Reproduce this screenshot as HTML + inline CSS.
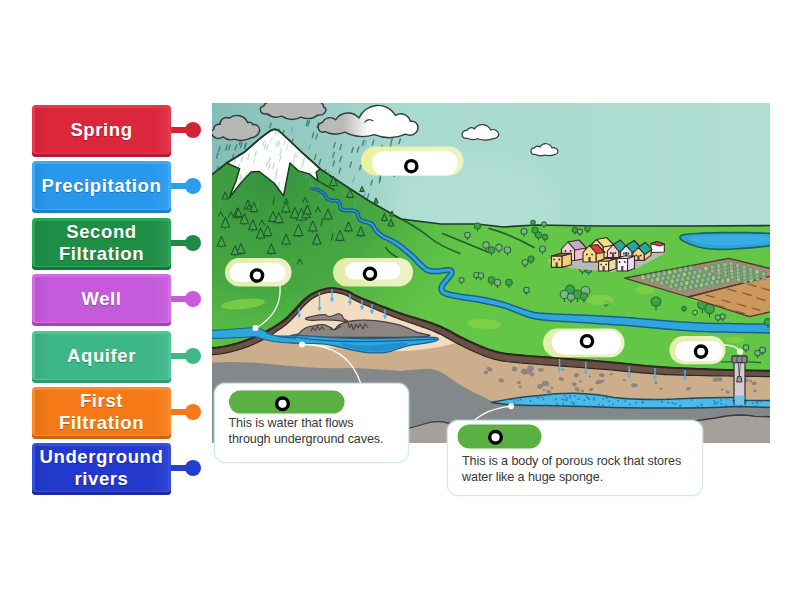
<!DOCTYPE html>
<html>
<head>
<meta charset="utf-8">
<title>Groundwater labelled diagram</title>
<style>
html,body{margin:0;padding:0;background:#fff;}
body{width:800px;height:600px;position:relative;overflow:hidden;font-family:"Liberation Sans",sans-serif;}
.btn{position:absolute;left:32px;width:139px;height:52px;border-radius:4px;color:#fff;font-weight:bold;font-size:18.5px;letter-spacing:.6px;line-height:22px;padding-bottom:3px;text-align:center;display:flex;align-items:center;justify-content:center;box-sizing:border-box;text-shadow:0 1px 1px rgba(0,0,0,.25);}
.btn span{display:block;}
.btn:before{content:"";position:absolute;left:3px;right:3px;top:3px;bottom:4px;border-radius:2px;background:var(--m);background-image:linear-gradient(90deg,rgba(0,0,0,.06),rgba(0,0,0,0) 12%,rgba(0,0,0,0) 88%,rgba(255,255,255,.06));}
.btn span{position:relative;}
.conn{position:absolute;left:171px;width:16px;height:6px;}
.dot{position:absolute;left:184.5px;width:16px;height:16px;border-radius:50%;}
#art{position:absolute;left:212px;top:103px;width:558px;height:340px;}
#over{position:absolute;left:0;top:0;width:800px;height:600px;}
.tip{position:absolute;background:#fff;border:1px solid #cfeae6;border-radius:11px;box-sizing:border-box;box-shadow:0 0 2px #d8efec;}
.tip p{position:absolute;margin:0;font-size:12.6px;letter-spacing:-.1px;line-height:15.5px;color:#383838;white-space:nowrap;}
</style>
</head>
<body>

<!-- left buttons -->
<div class="btn" style="top:105px;--m:#db263c;background:#e8364c;box-shadow:inset 0 -3px 0 #b51a2d;"><span>Spring</span></div>
<div class="btn" style="top:161px;--m:#2998ec;background:#3fabf6;box-shadow:inset 0 -3px 0 #1f7fcc;"><span>Precipitation</span></div>
<div class="btn" style="top:218px;--m:#1f8e47;background:#27a856;box-shadow:inset 0 -3px 0 #177338;"><span>Second<br>Filtration</span></div>
<div class="btn" style="top:274px;--m:#c55ada;background:#d26de5;box-shadow:inset 0 -3px 0 #a443b8;"><span>Well</span></div>
<div class="btn" style="top:331px;--m:#3db688;background:#4fc699;box-shadow:inset 0 -3px 0 #2f9a70;"><span>Aquifer</span></div>
<div class="btn" style="top:387px;--m:#f57a17;background:#fb8b2b;box-shadow:inset 0 -3px 0 #d36210;"><span>First<br>Filtration</span></div>
<div class="btn" style="top:443px;--m:#2339cd;background:#3350e2;box-shadow:inset 0 -3px 0 #1a2ca3;"><span>Underground<br>rivers</span></div>

<div class="conn" style="top:127.3px;background:#d42338;"></div><div class="dot" style="top:122.3px;background:#d42338;"></div>
<div class="conn" style="top:183.3px;background:#2b9df0;"></div><div class="dot" style="top:178.3px;background:#2b9df0;"></div>
<div class="conn" style="top:240.3px;background:#1f8a44;"></div><div class="dot" style="top:235.3px;background:#1f8a44;"></div>
<div class="conn" style="top:296.3px;background:#c75bdc;"></div><div class="dot" style="top:291.3px;background:#c75bdc;"></div>
<div class="conn" style="top:353.3px;background:#3fb888;"></div><div class="dot" style="top:348.3px;background:#3fb888;"></div>
<div class="conn" style="top:409.3px;background:#f5791b;"></div><div class="dot" style="top:404.3px;background:#f5791b;"></div>
<div class="conn" style="top:465.3px;background:#233fd0;"></div><div class="dot" style="top:460.3px;background:#233fd0;"></div>

<!-- illustration -->
<svg id="art" viewBox="212 103 558 340">
<defs>
<linearGradient id="sky" x1="0" y1="0" x2="1" y2="0"><stop offset="0" stop-color="#84bdb5"/><stop offset=".35" stop-color="#a9dacf"/><stop offset="1" stop-color="#b0ded3"/></linearGradient>
<linearGradient id="mtn" x1="0" y1="0" x2="0" y2="1"><stop offset="0" stop-color="#3a9a3d"/><stop offset="1" stop-color="#5bbd45"/></linearGradient>
<filter id="b8" x="-30%" y="-30%" width="160%" height="160%"><feGaussianBlur stdDeviation="10"/></filter>
<linearGradient id="cl3" x1="0" y1="0" x2="1" y2="0"><stop offset="0" stop-color="#b9b9b8"/><stop offset=".25" stop-color="#b9b9b8"/><stop offset=".52" stop-color="#fff"/><stop offset="1" stop-color="#fff"/></linearGradient>
<radialGradient id="dark" gradientUnits="userSpaceOnUse" cx="270" cy="175" r="215"><stop offset="0" stop-color="#34903d" stop-opacity=".95"/><stop offset=".55" stop-color="#3c9c40" stop-opacity=".7"/><stop offset="1" stop-color="#4fb542" stop-opacity="0"/></radialGradient>
</defs>
<rect x="212" y="103" width="558" height="340" fill="url(#sky)"/>
<ellipse cx="470" cy="205" rx="80" ry="45" fill="#c4e8df" opacity=".3" filter="url(#b8)"/>
<path d="M283.9,130.7 l-1.4,4.8" stroke="#3d817e" stroke-width="1.35" stroke-linecap="round" opacity="0.9"/><path d="M229.6,178.4 l-1.4,4.8" stroke="#3d817e" stroke-width="1.35" stroke-linecap="round" opacity="0.9"/><path d="M226.5,174.9 l-1.4,4.8" stroke="#3d817e" stroke-width="1.35" stroke-linecap="round" opacity="0.9"/><path d="M307.7,120.7 l-1.4,4.8" stroke="#3d817e" stroke-width="1.35" stroke-linecap="round" opacity="0.9"/><path d="M240.7,139.7 l-1.4,4.8" stroke="#3d817e" stroke-width="1.35" stroke-linecap="round" opacity="0.9"/><path d="M276.6,129.9 l-1.4,4.8" stroke="#3d817e" stroke-width="1.35" stroke-linecap="round" opacity="0.9"/><path d="M253.0,184.1 l-1.4,4.8" stroke="#3d817e" stroke-width="1.35" stroke-linecap="round" opacity="0.9"/><path d="M294.4,179.9 l-1.4,4.8" stroke="#3d817e" stroke-width="1.35" stroke-linecap="round" opacity="0.9"/><path d="M361.0,165.0 l-1.4,4.8" stroke="#3d817e" stroke-width="1.35" stroke-linecap="round" opacity="0.9"/><path d="M340.5,168.2 l-1.4,4.8" stroke="#3d817e" stroke-width="1.35" stroke-linecap="round" opacity="0.9"/><path d="M266.7,183.2 l-1.4,4.8" stroke="#3d817e" stroke-width="1.35" stroke-linecap="round" opacity="0.9"/><path d="M239.5,163.8 l-1.4,4.8" stroke="#3d817e" stroke-width="1.35" stroke-linecap="round" opacity="0.9"/><path d="M246.8,172.6 l-1.4,4.8" stroke="#3d817e" stroke-width="1.35" stroke-linecap="round" opacity="0.9"/><path d="M358.3,206.8 l-1.4,4.8" stroke="#3d817e" stroke-width="1.35" stroke-linecap="round" opacity="0.9"/><path d="M403.1,150.9 l-1.4,4.8" stroke="#3d817e" stroke-width="1.35" stroke-linecap="round" opacity="0.9"/><path d="M342.4,183.9 l-1.4,4.8" stroke="#3d817e" stroke-width="1.35" stroke-linecap="round" opacity="0.9"/><path d="M316.4,194.4 l-1.4,4.8" stroke="#3d817e" stroke-width="1.35" stroke-linecap="round" opacity="0.9"/><path d="M365.5,192.2 l-1.4,4.8" stroke="#62b7c4" stroke-width="1.35" stroke-linecap="round" opacity="0.9"/><path d="M391.5,147.3 l-1.4,4.8" stroke="#3d817e" stroke-width="1.35" stroke-linecap="round" opacity="0.9"/><path d="M313.7,132.8 l-1.4,4.8" stroke="#3d817e" stroke-width="1.35" stroke-linecap="round" opacity="0.9"/><path d="M241.9,142.7 l-1.4,4.8" stroke="#3d817e" stroke-width="1.35" stroke-linecap="round" opacity="0.9"/><path d="M311.0,180.1 l-1.4,4.8" stroke="#62b7c4" stroke-width="1.35" stroke-linecap="round" opacity="0.9"/><path d="M274.1,163.5 l-1.4,4.8" stroke="#3d817e" stroke-width="1.35" stroke-linecap="round" opacity="0.9"/><path d="M264.1,140.9 l-1.4,4.8" stroke="#3d817e" stroke-width="1.35" stroke-linecap="round" opacity="0.9"/><path d="M341.3,144.6 l-1.4,4.8" stroke="#3d817e" stroke-width="1.35" stroke-linecap="round" opacity="0.9"/><path d="M304.5,157.8 l-1.4,4.8" stroke="#3d817e" stroke-width="1.35" stroke-linecap="round" opacity="0.9"/><path d="M325.3,188.6 l-1.4,4.8" stroke="#3d817e" stroke-width="1.35" stroke-linecap="round" opacity="0.9"/><path d="M386.3,160.7 l-1.4,4.8" stroke="#3d817e" stroke-width="1.35" stroke-linecap="round" opacity="0.9"/><path d="M236.4,190.7 l-1.4,4.8" stroke="#3d817e" stroke-width="1.35" stroke-linecap="round" opacity="0.9"/><path d="M249.1,154.2 l-1.4,4.8" stroke="#3d817e" stroke-width="1.35" stroke-linecap="round" opacity="0.9"/><path d="M235.9,157.1 l-1.4,4.8" stroke="#3d817e" stroke-width="1.35" stroke-linecap="round" opacity="0.9"/><path d="M246.1,143.3 l-1.4,4.8" stroke="#3d817e" stroke-width="1.35" stroke-linecap="round" opacity="0.9"/><path d="M292.7,127.2 l-1.4,4.8" stroke="#62b7c4" stroke-width="1.35" stroke-linecap="round" opacity="0.9"/><path d="M318.5,122.6 l-1.4,4.8" stroke="#3d817e" stroke-width="1.35" stroke-linecap="round" opacity="0.9"/><path d="M288.0,144.8 l-1.4,4.8" stroke="#62b7c4" stroke-width="1.35" stroke-linecap="round" opacity="0.9"/><path d="M245.7,179.4 l-1.4,4.8" stroke="#3d817e" stroke-width="1.35" stroke-linecap="round" opacity="0.9"/><path d="M270.4,157.5 l-1.4,4.8" stroke="#3d817e" stroke-width="1.35" stroke-linecap="round" opacity="0.9"/><path d="M380.7,178.0 l-1.4,4.8" stroke="#3d817e" stroke-width="1.35" stroke-linecap="round" opacity="0.9"/><path d="M285.2,139.7 l-1.4,4.8" stroke="#62b7c4" stroke-width="1.35" stroke-linecap="round" opacity="0.9"/><path d="M373.8,140.1 l-1.4,4.8" stroke="#3d817e" stroke-width="1.35" stroke-linecap="round" opacity="0.9"/><path d="M220.0,146.6 l-1.4,4.8" stroke="#3d817e" stroke-width="1.35" stroke-linecap="round" opacity="0.9"/><path d="M292.8,139.3 l-1.4,4.8" stroke="#3d817e" stroke-width="1.35" stroke-linecap="round" opacity="0.9"/><path d="M395.5,171.5 l-1.4,4.8" stroke="#3d817e" stroke-width="1.35" stroke-linecap="round" opacity="0.9"/><path d="M317.3,134.1 l-1.4,4.8" stroke="#3d817e" stroke-width="1.35" stroke-linecap="round" opacity="0.9"/><path d="M289.7,180.0 l-1.4,4.8" stroke="#3d817e" stroke-width="1.35" stroke-linecap="round" opacity="0.9"/><path d="M354.3,177.3 l-1.4,4.8" stroke="#62b7c4" stroke-width="1.35" stroke-linecap="round" opacity="0.9"/><path d="M392.4,138.2 l-1.4,4.8" stroke="#3d817e" stroke-width="1.35" stroke-linecap="round" opacity="0.9"/><path d="M277.3,141.8 l-1.4,4.8" stroke="#3d817e" stroke-width="1.35" stroke-linecap="round" opacity="0.9"/><path d="M270.0,164.0 l-1.4,4.8" stroke="#3d817e" stroke-width="1.35" stroke-linecap="round" opacity="0.9"/><path d="M313.0,184.3 l-1.4,4.8" stroke="#62b7c4" stroke-width="1.35" stroke-linecap="round" opacity="0.9"/><path d="M322.4,177.9 l-1.4,4.8" stroke="#3d817e" stroke-width="1.35" stroke-linecap="round" opacity="0.9"/><path d="M218.0,166.6 l-1.4,4.8" stroke="#3d817e" stroke-width="1.35" stroke-linecap="round" opacity="0.9"/><path d="M251.2,170.7 l-1.4,4.8" stroke="#3d817e" stroke-width="1.35" stroke-linecap="round" opacity="0.9"/><path d="M334.2,152.4 l-1.4,4.8" stroke="#3d817e" stroke-width="1.35" stroke-linecap="round" opacity="0.9"/><path d="M334.0,209.2 l-1.4,4.8" stroke="#3d817e" stroke-width="1.35" stroke-linecap="round" opacity="0.9"/><path d="M335.0,142.8 l-1.4,4.8" stroke="#3d817e" stroke-width="1.35" stroke-linecap="round" opacity="0.9"/><path d="M380.8,175.0 l-1.4,4.8" stroke="#3d817e" stroke-width="1.35" stroke-linecap="round" opacity="0.9"/><path d="M309.7,188.0 l-1.4,4.8" stroke="#3d817e" stroke-width="1.35" stroke-linecap="round" opacity="0.9"/><path d="M324.6,197.9 l-1.4,4.8" stroke="#3d817e" stroke-width="1.35" stroke-linecap="round" opacity="0.9"/><path d="M329.2,171.3 l-1.4,4.8" stroke="#62b7c4" stroke-width="1.35" stroke-linecap="round" opacity="0.9"/><path d="M334.9,229.0 l-1.4,4.8" stroke="#62b7c4" stroke-width="1.35" stroke-linecap="round" opacity="0.9"/><path d="M309.5,121.0 l-1.4,4.8" stroke="#3d817e" stroke-width="1.35" stroke-linecap="round" opacity="0.9"/><path d="M229.8,195.0 l-1.4,4.8" stroke="#3d817e" stroke-width="1.35" stroke-linecap="round" opacity="0.9"/><path d="M368.7,193.9 l-1.4,4.8" stroke="#3d817e" stroke-width="1.35" stroke-linecap="round" opacity="0.9"/><path d="M300.0,172.4 l-1.4,4.8" stroke="#62b7c4" stroke-width="1.35" stroke-linecap="round" opacity="0.9"/><path d="M307.2,175.9 l-1.4,4.8" stroke="#3d817e" stroke-width="1.35" stroke-linecap="round" opacity="0.9"/><path d="M256.3,151.5 l-1.4,4.8" stroke="#3d817e" stroke-width="1.35" stroke-linecap="round" opacity="0.9"/><path d="M218.2,180.7 l-1.4,4.8" stroke="#3d817e" stroke-width="1.35" stroke-linecap="round" opacity="0.9"/><path d="M217.9,153.1 l-1.4,4.8" stroke="#3d817e" stroke-width="1.35" stroke-linecap="round" opacity="0.9"/><path d="M324.6,120.0 l-1.4,4.8" stroke="#62b7c4" stroke-width="1.35" stroke-linecap="round" opacity="0.9"/><path d="M236.6,144.9 l-1.4,4.8" stroke="#3d817e" stroke-width="1.35" stroke-linecap="round" opacity="0.9"/><path d="M382.3,145.5 l-1.4,4.8" stroke="#3d817e" stroke-width="1.35" stroke-linecap="round" opacity="0.9"/><path d="M390.9,144.1 l-1.4,4.8" stroke="#3d817e" stroke-width="1.35" stroke-linecap="round" opacity="0.9"/><path d="M226.4,197.3 l-1.4,4.8" stroke="#3d817e" stroke-width="1.35" stroke-linecap="round" opacity="0.9"/><path d="M351.0,211.4 l-1.4,4.8" stroke="#3d817e" stroke-width="1.35" stroke-linecap="round" opacity="0.9"/><path d="M400.4,168.3 l-1.4,4.8" stroke="#3d817e" stroke-width="1.35" stroke-linecap="round" opacity="0.9"/><path d="M333.5,226.9 l-1.4,4.8" stroke="#3d817e" stroke-width="1.35" stroke-linecap="round" opacity="0.9"/><path d="M241.9,177.3 l-1.4,4.8" stroke="#3d817e" stroke-width="1.35" stroke-linecap="round" opacity="0.9"/><path d="M281.4,149.8 l-1.4,4.8" stroke="#3d817e" stroke-width="1.35" stroke-linecap="round" opacity="0.9"/><path d="M276.6,174.0 l-1.4,4.8" stroke="#3d817e" stroke-width="1.35" stroke-linecap="round" opacity="0.9"/><path d="M372.3,180.3 l-1.4,4.8" stroke="#3d817e" stroke-width="1.35" stroke-linecap="round" opacity="0.9"/><path d="M307.4,173.4 l-1.4,4.8" stroke="#62b7c4" stroke-width="1.35" stroke-linecap="round" opacity="0.9"/><path d="M298.9,174.8 l-1.4,4.8" stroke="#3d817e" stroke-width="1.35" stroke-linecap="round" opacity="0.9"/><path d="M351.4,162.2 l-1.4,4.8" stroke="#3d817e" stroke-width="1.35" stroke-linecap="round" opacity="0.9"/><path d="M229.3,203.9 l-1.4,4.8" stroke="#3d817e" stroke-width="1.35" stroke-linecap="round" opacity="0.9"/><path d="M358.8,147.0 l-1.4,4.8" stroke="#3d817e" stroke-width="1.35" stroke-linecap="round" opacity="0.9"/><path d="M277.3,169.0 l-1.4,4.8" stroke="#3d817e" stroke-width="1.35" stroke-linecap="round" opacity="0.9"/><path d="M310.3,144.6 l-1.4,4.8" stroke="#62b7c4" stroke-width="1.35" stroke-linecap="round" opacity="0.9"/><path d="M280.9,156.2 l-1.4,4.8" stroke="#3d817e" stroke-width="1.35" stroke-linecap="round" opacity="0.9"/><path d="M296.4,170.9 l-1.4,4.8" stroke="#3d817e" stroke-width="1.35" stroke-linecap="round" opacity="0.9"/><path d="M257.4,174.6 l-1.4,4.8" stroke="#3d817e" stroke-width="1.35" stroke-linecap="round" opacity="0.9"/><path d="M271.1,123.1 l-1.4,4.8" stroke="#3d817e" stroke-width="1.35" stroke-linecap="round" opacity="0.9"/><path d="M279.7,140.9 l-1.4,4.8" stroke="#3d817e" stroke-width="1.35" stroke-linecap="round" opacity="0.9"/><path d="M356.0,200.8 l-1.4,4.8" stroke="#62b7c4" stroke-width="1.35" stroke-linecap="round" opacity="0.9"/><path d="M298.1,152.4 l-1.4,4.8" stroke="#62b7c4" stroke-width="1.35" stroke-linecap="round" opacity="0.9"/><path d="M246.3,201.8 l-1.4,4.8" stroke="#3d817e" stroke-width="1.35" stroke-linecap="round" opacity="0.9"/><path d="M244.1,176.9 l-1.4,4.8" stroke="#3d817e" stroke-width="1.35" stroke-linecap="round" opacity="0.9"/><path d="M363.8,140.5 l-1.4,4.8" stroke="#3d817e" stroke-width="1.35" stroke-linecap="round" opacity="0.9"/><path d="M242.7,156.7 l-1.4,4.8" stroke="#3d817e" stroke-width="1.35" stroke-linecap="round" opacity="0.9"/><path d="M349.6,189.7 l-1.4,4.8" stroke="#3d817e" stroke-width="1.35" stroke-linecap="round" opacity="0.9"/><path d="M322.6,178.4 l-1.4,4.8" stroke="#3d817e" stroke-width="1.35" stroke-linecap="round" opacity="0.9"/><path d="M228.3,203.4 l-1.4,4.8" stroke="#3d817e" stroke-width="1.35" stroke-linecap="round" opacity="0.9"/><path d="M230.1,144.9 l-1.4,4.8" stroke="#3d817e" stroke-width="1.35" stroke-linecap="round" opacity="0.9"/><path d="M258.3,203.7 l-1.4,4.8" stroke="#62b7c4" stroke-width="1.35" stroke-linecap="round" opacity="0.9"/><path d="M320.7,159.4 l-1.4,4.8" stroke="#3d817e" stroke-width="1.35" stroke-linecap="round" opacity="0.9"/><path d="M361.7,207.1 l-1.4,4.8" stroke="#3d817e" stroke-width="1.35" stroke-linecap="round" opacity="0.9"/><path d="M245.8,143.5 l-1.4,4.8" stroke="#3d817e" stroke-width="1.35" stroke-linecap="round" opacity="0.9"/><path d="M279.8,182.4 l-1.4,4.8" stroke="#3d817e" stroke-width="1.35" stroke-linecap="round" opacity="0.9"/><path d="M227.1,145.3 l-1.4,4.8" stroke="#3d817e" stroke-width="1.35" stroke-linecap="round" opacity="0.9"/><path d="M363.5,195.8 l-1.4,4.8" stroke="#3d817e" stroke-width="1.35" stroke-linecap="round" opacity="0.9"/><path d="M325.6,169.6 l-1.4,4.8" stroke="#3d817e" stroke-width="1.35" stroke-linecap="round" opacity="0.9"/><path d="M272.0,138.0 l-1.4,4.8" stroke="#62b7c4" stroke-width="1.35" stroke-linecap="round" opacity="0.9"/><path d="M259.5,184.1 l-1.4,4.8" stroke="#3d817e" stroke-width="1.35" stroke-linecap="round" opacity="0.9"/><path d="M365.9,140.7 l-1.4,4.8" stroke="#62b7c4" stroke-width="1.35" stroke-linecap="round" opacity="0.9"/><path d="M214.8,173.0 l-1.4,4.8" stroke="#3d817e" stroke-width="1.35" stroke-linecap="round" opacity="0.9"/><path d="M279.2,129.4 l-1.4,4.8" stroke="#3d817e" stroke-width="1.35" stroke-linecap="round" opacity="0.9"/><path d="M294.4,160.7 l-1.4,4.8" stroke="#62b7c4" stroke-width="1.35" stroke-linecap="round" opacity="0.9"/><path d="M341.3,156.7 l-1.4,4.8" stroke="#3d817e" stroke-width="1.35" stroke-linecap="round" opacity="0.9"/><path d="M267.9,145.0 l-1.4,4.8" stroke="#3d817e" stroke-width="1.35" stroke-linecap="round" opacity="0.9"/><path d="M255.0,158.3 l-1.4,4.8" stroke="#62b7c4" stroke-width="1.35" stroke-linecap="round" opacity="0.9"/><path d="M372.2,167.9 l-1.4,4.8" stroke="#3d817e" stroke-width="1.35" stroke-linecap="round" opacity="0.9"/><path d="M353.2,147.5 l-1.4,4.8" stroke="#3d817e" stroke-width="1.35" stroke-linecap="round" opacity="0.9"/><path d="M316.0,154.6 l-1.4,4.8" stroke="#3d817e" stroke-width="1.35" stroke-linecap="round" opacity="0.9"/><path d="M270.2,193.3 l-1.4,4.8" stroke="#3d817e" stroke-width="1.35" stroke-linecap="round" opacity="0.9"/><path d="M334.4,160.9 l-1.4,4.8" stroke="#3d817e" stroke-width="1.35" stroke-linecap="round" opacity="0.9"/><path d="M233.6,154.4 l-1.4,4.8" stroke="#3d817e" stroke-width="1.35" stroke-linecap="round" opacity="0.9"/><path d="M265.7,144.0 l-1.4,4.8" stroke="#3d817e" stroke-width="1.35" stroke-linecap="round" opacity="0.9"/><path d="M303.2,163.3 l-1.4,4.8" stroke="#3d817e" stroke-width="1.35" stroke-linecap="round" opacity="0.9"/><path d="M295.4,153.9 l-1.4,4.8" stroke="#3d817e" stroke-width="1.35" stroke-linecap="round" opacity="0.9"/><path d="M241.2,174.4 l-1.4,4.8" stroke="#3d817e" stroke-width="1.35" stroke-linecap="round" opacity="0.9"/><path d="M400.4,138.8 l-1.4,4.8" stroke="#3d817e" stroke-width="1.35" stroke-linecap="round" opacity="0.9"/><path d="M267.7,161.6 l-1.4,4.8" stroke="#3d817e" stroke-width="1.35" stroke-linecap="round" opacity="0.9"/><path d="M221.0,200.0 l-1.4,4.8" stroke="#62b7c4" stroke-width="1.35" stroke-linecap="round" opacity="0.9"/><path d="M316.2,184.8 l-1.4,4.8" stroke="#3d817e" stroke-width="1.35" stroke-linecap="round" opacity="0.9"/>
<path d="M212,174.6 L226.6,163 L244.5,152 L260.7,137.9 L270,131 Q274.6,127.6 279.2,131 L288.4,139.5 L303,153.3 L321,169.5 L345,185.5 L370,201.5 L401,219 L441,224 L477,224 L503,227 L536,225 L600,226 L690,226 L770,225.5 L770,443 L212,443 Z" fill="#63c647"/><path d="M212,174.6 L226.6,163 L244.5,152 L260.7,137.9 L270,131 Q274.6,127.6 279.2,131 L288.4,139.5 L303,153.3 L321,169.5 L345,185.5 L370,201.5 L401,219 L441,224 L477,224 L503,227 L536,225 L600,226 L690,226 L770,225.5 L770,443 L212,443 Z" fill="url(#dark)"/><path d="M226.6,163 L244.5,152 L260.7,137.9 L270,131 Q274.6,127.6 279.2,131 L288.4,139.5 L303,153.3 L320.2,168.8 L316.2,172.2 L317.8,181 L309.5,174 L298,170.6 L290,163 L283.5,195.8 L274,183 L259,171.4 L251,172 L240,184 L229,198.2 L236,181 L239.6,168.8 Z" fill="#fff" stroke="#1d3a22" stroke-width="1.5" stroke-linejoin="round"/><path d="M212,174.6 L226.6,163 L244.5,152 L260.7,137.9 L270,131 Q274.6,127.6 279.2,131 L288.4,139.5 L303,153.3 L321,169.5 L345,185.5 L370,201.5 L401,219 L441,224 L477,224 L503,227 L536,225 L600,226 L690,226 L770,225.5" fill="none" stroke="#1d3a22" stroke-width="1.7" stroke-linejoin="round"/><path d="M401,219 Q418,228 429,237 T460,253.5" fill="none" stroke="#24592b" stroke-width="1.5" stroke-linecap="round"/><path d="M442.5,233.5 Q466,243 489,252.5" fill="none" stroke="#24592b" stroke-width="1.5" stroke-linecap="round"/><path d="M489,228.5 Q510,234 534,247.5" fill="none" stroke="#24592b" stroke-width="1.5" stroke-linecap="round"/><path d="M385.5,247.5 Q390,254 397,257" fill="none" stroke="#24592b" stroke-width="1.5" stroke-linecap="round"/><path d="M318,181 L334,190" fill="none" stroke="#24592b" stroke-width="1.5" stroke-linecap="round"/>
<path d="M310.9,189.3 L311.4,189.4 L312.0,189.5 L312.7,189.6 L313.5,189.7 L314.3,189.8 L315.1,190.0 L315.9,190.2 L316.6,190.5 L317.4,190.9 L318.3,191.3 L319.2,191.7 L320.1,192.2 L321.0,192.8 L321.9,193.3 L322.6,193.9 L323.2,194.4 L323.6,194.8 L324.0,195.3 L324.3,195.9 L324.5,196.6 L324.8,197.3 L325.2,198.0 L325.6,198.7 L326.2,199.4 L326.9,199.9 L327.5,200.3 L328.2,200.6 L328.9,200.9 L329.6,201.1 L330.3,201.4 L331.0,201.5 L331.8,201.7 L332.6,201.8 L333.5,201.9 L334.4,201.9 L335.2,201.8 L336.0,201.8 L336.6,201.9 L337.1,202.0 L337.4,202.1 L337.6,202.2 L337.8,202.5 L338.0,202.8 L338.1,203.2 L338.3,203.7 L338.4,204.3 L338.6,204.9 L338.8,205.4 L338.9,205.8 L339.0,206.2 L339.0,206.7 L339.0,207.3 L339.1,207.9 L339.3,208.6 L339.6,209.3 L340.1,209.9 L340.7,210.4 L341.4,210.7 L342.1,211.0 L342.8,211.2 L343.5,211.4 L344.3,211.5 L345.1,211.7 L345.9,211.8 L346.8,211.8 L347.7,211.8 L348.7,211.8 L349.6,211.7 L350.5,211.7 L351.4,211.7 L352.1,211.7 L352.8,211.8 L353.3,212.0 L353.9,212.1 L354.5,212.3 L355.0,212.6 L355.4,212.8 L355.8,213.1 L356.1,213.4 L356.4,213.7 L356.6,214.1 L356.7,214.5 L356.8,215.1 L356.9,215.9 L357.0,216.7 L357.1,217.6 L357.4,218.5 L357.9,219.3 L358.5,220.0 L359.1,220.6 L359.7,221.1 L360.4,221.5 L361.1,221.9 L361.9,222.3 L362.6,222.6 L363.4,223.0 L364.3,223.3 L365.4,223.6 L366.4,223.9 L367.4,224.1 L368.3,224.4 L369.2,224.6 L369.9,225.0 L370.5,225.3 L371.0,225.8 L371.4,226.3 L371.9,227.0 L372.3,227.8 L372.8,228.7 L373.3,229.7 L374.0,230.7 L374.7,231.6 L375.5,232.5 L376.4,233.3 L377.3,234.2 L378.2,235.0 L379.1,235.8 L380.1,236.6 L381.1,237.3 L382.1,238.0 L383.1,238.6 L384.0,239.1 L385.0,239.5 L385.9,239.9 L386.9,240.2 L387.8,240.6 L388.7,241.1 L389.6,241.6 L390.7,242.2 L391.7,242.9 L392.8,243.5 L393.9,244.3 L395.1,245.1 L396.2,245.9 L397.5,246.8 L398.7,247.7 L400.1,248.8 L401.5,249.9 L403.1,251.2 L404.6,252.5 L406.2,253.8 L407.7,255.1 L409.2,256.4 L410.5,257.6 L411.8,258.8 L412.9,260.0 L414.1,261.2 L415.2,262.3 L416.3,263.5 L417.4,264.6 L418.4,265.7 L419.5,266.7 L420.4,267.5 L421.3,268.3 L422.1,269.1 L423.0,269.9 L423.9,270.6 L424.9,271.3 L426.0,271.9 L427.2,272.5 L428.5,272.9 L429.8,273.2 L431.2,273.4 L432.6,273.5 L434.0,273.6 L435.3,273.6 L436.7,273.6 L438.1,273.6 L439.6,273.5 L441.2,273.3 L442.8,273.1 L444.4,272.8 L445.8,272.5 L447.1,272.4 L448.1,272.3 L448.8,272.3 L449.2,272.4 L449.4,272.5 L449.5,272.5 L449.4,272.4 L449.3,272.3 L449.3,272.2 L449.3,272.3 L449.3,272.4 L449.2,272.7 L448.9,273.2 L448.5,273.9 L447.9,274.6 L447.2,275.5 L446.5,276.3 L445.8,277.2 L445.1,278.1 L444.5,278.8 L443.9,279.6 L443.1,280.4 L442.4,281.3 L441.6,282.1 L440.9,283.1 L440.3,284.1 L439.8,285.1 L439.4,286.1 L439.2,287.1 L439.1,288.1 L439.1,289.2 L439.3,290.2 L439.5,291.2 L440.0,292.2 L440.6,293.1 L441.3,293.8 L442.2,294.5 L443.1,295.0 L444.0,295.5 L445.0,295.9 L446.0,296.2 L447.1,296.6 L448.3,296.9 L449.7,297.3 L451.2,297.6 L452.9,298.0 L454.6,298.3 L456.3,298.6 L458.1,299.0 L459.9,299.3 L461.6,299.6 L463.3,299.9 L465.1,300.1 L466.9,300.4 L468.6,300.6 L470.4,300.9 L472.2,301.2 L473.9,301.4 L475.6,301.7 L477.2,302.0 L478.8,302.3 L480.3,302.6 L481.8,302.9 L483.4,303.2 L485.0,303.6 L486.6,303.9 L488.4,304.3 L490.2,304.7 L492.2,305.1 L494.2,305.6 L496.2,306.0 L498.3,306.5 L500.3,307.0 L502.3,307.5 L504.2,308.0 L506.1,308.6 L507.9,309.3 L509.8,310.0 L511.6,310.8 L513.5,311.5 L515.3,312.3 L517.2,313.0 L519.0,313.7 L520.8,314.4 L522.4,315.0 L524.1,315.7 L525.8,316.3 L527.6,317.0 L529.4,317.6 L531.3,318.1 L533.4,318.6 L535.5,319.0 L537.6,319.3 L539.7,319.6 L541.8,319.9 L544.1,320.1 L546.5,320.3 L549.0,320.5 L551.8,320.7 L554.8,320.9 L558.2,321.1 L561.7,321.4 L565.4,321.6 L569.1,321.8 L572.8,322.0 L576.4,322.2 L579.8,322.4 L583.1,322.6 L586.2,322.8 L589.4,323.0 L592.5,323.2 L595.5,323.5 L598.6,323.7 L601.7,323.9 L604.8,324.1 L607.8,324.3 L610.8,324.5 L613.7,324.7 L616.6,324.9 L619.6,325.1 L622.8,325.3 L626.1,325.5 L629.7,325.8 L633.6,326.1 L637.7,326.5 L642.0,326.9 L646.5,327.3 L651.1,327.7 L655.7,328.1 L660.2,328.5 L664.7,328.9 L669.1,329.2 L673.4,329.6 L677.8,329.9 L682.2,330.3 L686.6,330.6 L691.0,330.9 L695.4,331.2 L699.8,331.4 L704.2,331.6 L708.5,331.7 L712.9,331.9 L717.2,332.0 L721.5,332.0 L725.9,332.1 L730.4,332.2 L734.9,332.3 L739.9,332.4 L745.3,332.5 L751.0,332.6 L756.6,332.7 L762.0,332.8 L766.8,332.9 L770.9,332.9 L773.9,333.0 L774.1,324.2 L771.0,324.2 L767.0,324.1 L762.1,324.1 L756.8,324.0 L751.1,323.9 L745.5,323.9 L740.0,323.8 L735.1,323.7 L730.5,323.6 L726.0,323.6 L721.7,323.5 L717.3,323.5 L713.0,323.4 L708.8,323.3 L704.5,323.2 L700.2,323.0 L695.9,322.8 L691.5,322.6 L687.2,322.3 L682.8,322.0 L678.4,321.7 L674.1,321.4 L669.7,321.0 L665.3,320.7 L660.9,320.4 L656.4,320.0 L651.8,319.6 L647.2,319.2 L642.7,318.8 L638.4,318.5 L634.2,318.1 L630.3,317.8 L626.7,317.6 L623.3,317.3 L620.1,317.1 L617.1,317.0 L614.2,316.8 L611.2,316.6 L608.3,316.5 L605.2,316.3 L602.1,316.1 L599.1,316.0 L596.0,315.8 L592.9,315.6 L589.8,315.5 L586.7,315.3 L583.5,315.2 L580.2,315.0 L576.8,314.9 L573.1,314.7 L569.4,314.6 L565.7,314.5 L562.1,314.3 L558.5,314.2 L555.2,314.1 L552.2,313.9 L549.5,313.8 L546.9,313.6 L544.6,313.5 L542.4,313.3 L540.4,313.2 L538.4,313.0 L536.5,312.7 L534.6,312.4 L532.8,312.0 L531.1,311.6 L529.4,311.1 L527.8,310.6 L526.2,310.1 L524.5,309.5 L522.8,308.9 L521.0,308.3 L519.2,307.7 L517.4,307.0 L515.5,306.3 L513.6,305.7 L511.7,305.0 L509.8,304.3 L507.8,303.6 L505.8,303.0 L503.8,302.4 L501.7,301.8 L499.6,301.2 L497.5,300.6 L495.5,300.1 L493.4,299.6 L491.5,299.1 L489.6,298.7 L487.9,298.3 L486.1,297.9 L484.5,297.6 L482.9,297.3 L481.3,297.1 L479.7,296.8 L478.1,296.5 L476.4,296.3 L474.7,296.0 L472.9,295.8 L471.1,295.6 L469.4,295.4 L467.6,295.1 L465.8,294.9 L464.1,294.7 L462.4,294.4 L460.7,294.2 L459.0,293.9 L457.2,293.6 L455.5,293.3 L453.8,293.0 L452.3,292.7 L450.9,292.4 L449.7,292.1 L448.5,291.8 L447.5,291.5 L446.7,291.2 L445.9,290.9 L445.4,290.6 L444.9,290.4 L444.6,290.2 L444.4,289.9 L444.2,289.7 L444.1,289.5 L444.0,289.2 L443.9,288.8 L443.9,288.4 L444.0,287.9 L444.1,287.4 L444.2,286.9 L444.5,286.4 L444.8,285.8 L445.4,285.1 L446.0,284.4 L446.7,283.5 L447.4,282.7 L448.2,281.8 L448.9,280.9 L449.5,280.1 L450.2,279.2 L450.9,278.4 L451.6,277.4 L452.2,276.5 L452.9,275.6 L453.4,274.6 L453.7,273.6 L453.9,272.6 L453.8,271.6 L453.6,270.6 L453.1,269.6 L452.3,268.8 L451.4,268.3 L450.4,267.9 L449.2,267.7 L447.9,267.7 L446.6,267.8 L445.1,268.0 L443.6,268.3 L442.1,268.5 L440.6,268.8 L439.2,268.9 L437.9,269.0 L436.7,269.0 L435.4,269.0 L434.1,269.0 L432.9,268.9 L431.8,268.8 L430.7,268.6 L429.7,268.4 L428.8,268.1 L428.0,267.8 L427.3,267.4 L426.6,267.0 L425.9,266.4 L425.2,265.8 L424.4,265.0 L423.5,264.2 L422.5,263.3 L421.5,262.4 L420.6,261.5 L419.5,260.4 L418.4,259.3 L417.3,258.1 L416.1,256.8 L414.8,255.6 L413.5,254.4 L412.1,253.1 L410.6,251.8 L409.0,250.5 L407.4,249.1 L405.8,247.8 L404.3,246.5 L402.7,245.3 L401.3,244.3 L399.9,243.3 L398.6,242.4 L397.3,241.6 L396.0,240.9 L394.8,240.2 L393.6,239.6 L392.5,239.0 L391.4,238.4 L390.2,237.9 L389.2,237.4 L388.2,237.0 L387.2,236.6 L386.4,236.3 L385.5,235.9 L384.7,235.5 L383.9,235.0 L383.1,234.5 L382.2,233.8 L381.3,233.1 L380.4,232.4 L379.6,231.6 L378.8,230.9 L378.0,230.1 L377.3,229.4 L376.7,228.7 L376.2,227.9 L375.7,227.1 L375.2,226.2 L374.7,225.3 L374.1,224.4 L373.4,223.5 L372.5,222.7 L371.4,222.0 L370.4,221.6 L369.3,221.2 L368.2,220.9 L367.1,220.7 L366.2,220.5 L365.3,220.3 L364.6,220.0 L363.9,219.7 L363.1,219.4 L362.4,219.2 L361.8,218.9 L361.3,218.6 L360.8,218.3 L360.4,218.0 L360.1,217.7 L359.9,217.4 L359.8,216.9 L359.6,216.3 L359.5,215.6 L359.4,214.8 L359.3,213.9 L359.0,213.1 L358.6,212.3 L358.1,211.6 L357.5,211.1 L356.9,210.6 L356.2,210.2 L355.5,209.9 L354.8,209.6 L354.1,209.4 L353.2,209.2 L352.3,209.1 L351.4,209.0 L350.4,209.1 L349.5,209.1 L348.5,209.2 L347.6,209.3 L346.8,209.3 L346.1,209.2 L345.4,209.1 L344.7,209.0 L344.1,208.9 L343.4,208.8 L342.9,208.6 L342.5,208.4 L342.1,208.2 L341.9,208.1 L341.8,208.0 L341.7,207.8 L341.6,207.5 L341.6,207.0 L341.5,206.5 L341.5,205.9 L341.4,205.2 L341.2,204.6 L341.0,204.1 L340.9,203.6 L340.7,203.0 L340.5,202.3 L340.2,201.7 L339.8,201.0 L339.3,200.4 L338.6,199.9 L337.8,199.6 L336.9,199.4 L336.0,199.4 L335.2,199.4 L334.3,199.4 L333.5,199.4 L332.8,199.4 L332.2,199.3 L331.6,199.2 L330.9,199.0 L330.3,198.8 L329.7,198.7 L329.2,198.4 L328.7,198.2 L328.2,197.9 L327.8,197.6 L327.5,197.3 L327.2,196.9 L327.0,196.3 L326.7,195.7 L326.4,194.9 L326.0,194.2 L325.5,193.4 L324.8,192.6 L324.0,192.0 L323.2,191.4 L322.2,190.8 L321.2,190.3 L320.2,189.7 L319.2,189.3 L318.3,188.8 L317.4,188.5 L316.4,188.2 L315.5,188.0 L314.6,187.9 L313.7,187.8 L312.9,187.8 L312.1,187.7 L311.5,187.7 L311.1,187.7 Z" fill="#2da7de" stroke="#1d5f8f" stroke-width="1.5" stroke-linejoin="round"/>
<path d="M221.2,227.3 L225.4,217.3 L229.6,227.3 Z" fill="#46a04c" stroke="#1f5a2b" stroke-width="1.1" stroke-linejoin="round"/><path d="M225.4,227.3 v1.8" stroke="#23602f" stroke-width="1"/><path d="M233.1,217.8 L237.3,207.8 L241.5,217.8 Z" fill="#46a04c" stroke="#1f5a2b" stroke-width="1.1" stroke-linejoin="round"/><path d="M237.3,217.8 v1.8" stroke="#23602f" stroke-width="1"/><path d="M240.2,223.8 L244.4,213.8 L248.6,223.8 Z" fill="#46a04c" stroke="#1f5a2b" stroke-width="1.1" stroke-linejoin="round"/><path d="M244.4,223.8 v1.8" stroke="#23602f" stroke-width="1"/><path d="M248.6,229.7 L252.8,219.7 L257.0,229.7 Z" fill="#46a04c" stroke="#1f5a2b" stroke-width="1.1" stroke-linejoin="round"/><path d="M252.8,229.7 v1.8" stroke="#23602f" stroke-width="1"/><path d="M256.4,238.0 L260.6,228.0 L264.8,238.0 Z" fill="#46a04c" stroke="#1f5a2b" stroke-width="1.1" stroke-linejoin="round"/><path d="M260.6,238.0 v1.8" stroke="#23602f" stroke-width="1"/><path d="M263.5,235.6 L267.7,225.6 L271.9,235.6 Z" fill="#46a04c" stroke="#1f5a2b" stroke-width="1.1" stroke-linejoin="round"/><path d="M267.7,235.6 v1.8" stroke="#23602f" stroke-width="1"/><path d="M268.8,221.4 L273.0,211.4 L277.2,221.4 Z" fill="#46a04c" stroke="#1f5a2b" stroke-width="1.1" stroke-linejoin="round"/><path d="M273.0,221.4 v1.8" stroke="#23602f" stroke-width="1"/><path d="M274.7,222.6 L278.9,212.6 L283.1,222.6 Z" fill="#46a04c" stroke="#1f5a2b" stroke-width="1.1" stroke-linejoin="round"/><path d="M278.9,222.6 v1.8" stroke="#23602f" stroke-width="1"/><path d="M281.8,211.9 L286.0,201.9 L290.2,211.9 Z" fill="#46a04c" stroke="#1f5a2b" stroke-width="1.1" stroke-linejoin="round"/><path d="M286.0,211.9 v1.8" stroke="#23602f" stroke-width="1"/><path d="M290.4,217.8 L294.8,207.3 L299.2,217.8 Z" fill="#46a04c" stroke="#1f5a2b" stroke-width="1.1" stroke-linejoin="round"/><path d="M294.8,217.8 v1.9" stroke="#23602f" stroke-width="1"/><path d="M296.6,220.0 L301.4,208.5 L306.2,220.0 Z" fill="#46a04c" stroke="#1f5a2b" stroke-width="1.1" stroke-linejoin="round"/><path d="M301.4,220.0 v2.1" stroke="#23602f" stroke-width="1"/><path d="M301.8,217.8 L306.0,207.8 L310.2,217.8 Z" fill="#46a04c" stroke="#1f5a2b" stroke-width="1.1" stroke-linejoin="round"/><path d="M306.0,217.8 v1.8" stroke="#23602f" stroke-width="1"/><path d="M293.8,235.6 L298.4,224.6 L303.0,235.6 Z" fill="#46a04c" stroke="#1f5a2b" stroke-width="1.1" stroke-linejoin="round"/><path d="M298.4,235.6 v2.0" stroke="#23602f" stroke-width="1"/><path d="M281.8,244.0 L286.0,234.0 L290.2,244.0 Z" fill="#46a04c" stroke="#1f5a2b" stroke-width="1.1" stroke-linejoin="round"/><path d="M286.0,244.0 v1.8" stroke="#23602f" stroke-width="1"/><path d="M267.3,253.4 L271.3,243.9 L275.3,253.4 Z" fill="#46a04c" stroke="#1f5a2b" stroke-width="1.1" stroke-linejoin="round"/><path d="M271.3,253.4 v1.7" stroke="#23602f" stroke-width="1"/><path d="M236.7,253.4 L240.9,243.4 L245.1,253.4 Z" fill="#46a04c" stroke="#1f5a2b" stroke-width="1.1" stroke-linejoin="round"/><path d="M240.9,253.4 v1.8" stroke="#23602f" stroke-width="1"/><path d="M231.2,254.6 L235.0,245.6 L238.8,254.6 Z" fill="#46a04c" stroke="#1f5a2b" stroke-width="1.1" stroke-linejoin="round"/><path d="M235.0,254.6 v1.6" stroke="#23602f" stroke-width="1"/><path d="M217.2,246.3 L221.4,236.3 L225.6,246.3 Z" fill="#46a04c" stroke="#1f5a2b" stroke-width="1.1" stroke-linejoin="round"/><path d="M221.4,246.3 v1.8" stroke="#23602f" stroke-width="1"/><path d="M308.6,230.9 L312.8,220.9 L317.0,230.9 Z" fill="#46a04c" stroke="#1f5a2b" stroke-width="1.1" stroke-linejoin="round"/><path d="M312.8,230.9 v1.8" stroke="#23602f" stroke-width="1"/><path d="M312.7,244.0 L316.9,234.0 L321.1,244.0 Z" fill="#46a04c" stroke="#1f5a2b" stroke-width="1.1" stroke-linejoin="round"/><path d="M316.9,244.0 v1.8" stroke="#23602f" stroke-width="1"/><path d="M323.8,219.0 L328.0,209.0 L332.2,219.0 Z" fill="#46a04c" stroke="#1f5a2b" stroke-width="1.1" stroke-linejoin="round"/><path d="M328.0,219.0 v1.8" stroke="#23602f" stroke-width="1"/><path d="M335.8,240.4 L340.0,230.4 L344.2,240.4 Z" fill="#46a04c" stroke="#1f5a2b" stroke-width="1.1" stroke-linejoin="round"/><path d="M340.0,240.4 v1.8" stroke="#23602f" stroke-width="1"/><path d="M344.7,230.9 L348.5,221.9 L352.3,230.9 Z" fill="#46a04c" stroke="#1f5a2b" stroke-width="1.1" stroke-linejoin="round"/><path d="M348.5,230.9 v1.6" stroke="#23602f" stroke-width="1"/><path d="M357.0,235.6 L360.8,226.6 L364.6,235.6 Z" fill="#46a04c" stroke="#1f5a2b" stroke-width="1.1" stroke-linejoin="round"/><path d="M360.8,235.6 v1.6" stroke="#23602f" stroke-width="1"/><path d="M381.6,220.5 L384.5,213.5 L387.4,220.5 Z" fill="#46a04c" stroke="#1f5a2b" stroke-width="1.1" stroke-linejoin="round"/><path d="M384.5,220.5 v1.3" stroke="#23602f" stroke-width="1"/><path d="M388.1,226.0 L391.0,219.0 L393.9,226.0 Z" fill="#46a04c" stroke="#1f5a2b" stroke-width="1.1" stroke-linejoin="round"/><path d="M391.0,226.0 v1.3" stroke="#23602f" stroke-width="1"/><path d="M244.2,209.0 L248.0,200.0 L251.8,209.0 Z" fill="#46a04c" stroke="#1f5a2b" stroke-width="1.1" stroke-linejoin="round"/><path d="M248.0,209.0 v1.6" stroke="#23602f" stroke-width="1"/><path d="M250.2,211.6 L254.0,202.6 L257.8,211.6 Z" fill="#46a04c" stroke="#1f5a2b" stroke-width="1.1" stroke-linejoin="round"/><path d="M254.0,211.6 v1.6" stroke="#23602f" stroke-width="1"/><path d="M235.1,216.4 L238.5,208.4 L241.9,216.4 Z" fill="#46a04c" stroke="#1f5a2b" stroke-width="1.1" stroke-linejoin="round"/><path d="M238.5,216.4 v1.4" stroke="#23602f" stroke-width="1"/><path d="M303.6,214.0 L307.4,205.0 L311.2,214.0 Z" fill="#46a04c" stroke="#1f5a2b" stroke-width="1.1" stroke-linejoin="round"/><path d="M307.4,214.0 v1.6" stroke="#23602f" stroke-width="1"/><path d="M329.7,185.5 L333.5,176.5 L337.3,185.5 Z" fill="#46a04c" stroke="#1f5a2b" stroke-width="1.1" stroke-linejoin="round"/><path d="M333.5,185.5 v1.6" stroke="#23602f" stroke-width="1"/><path d="M346.6,197.4 L350.0,189.4 L353.4,197.4 Z" fill="#46a04c" stroke="#1f5a2b" stroke-width="1.1" stroke-linejoin="round"/><path d="M350.0,197.4 v1.4" stroke="#23602f" stroke-width="1"/><path d="M359.9,191.4 L362.0,186.4 L364.1,191.4 Z" fill="#46a04c" stroke="#1f5a2b" stroke-width="1.1" stroke-linejoin="round"/><path d="M362.0,191.4 v0.9" stroke="#23602f" stroke-width="1"/><path d="M373.9,203.0 L376.0,198.0 L378.1,203.0 Z" fill="#46a04c" stroke="#1f5a2b" stroke-width="1.1" stroke-linejoin="round"/><path d="M376.0,203.0 v0.9" stroke="#23602f" stroke-width="1"/><path d="M389.9,216.0 L392.0,211.0 L394.1,216.0 Z" fill="#46a04c" stroke="#1f5a2b" stroke-width="1.1" stroke-linejoin="round"/><path d="M392.0,216.0 v0.9" stroke="#23602f" stroke-width="1"/><path d="M222.1,199.0 L225.0,192.0 L227.9,199.0 Z" fill="#46a04c" stroke="#1f5a2b" stroke-width="1.1" stroke-linejoin="round"/><path d="M225.0,199.0 v1.3" stroke="#23602f" stroke-width="1"/><path d="M218.2,216.6 L220.7,211.6 L223.2,216.6" fill="none" stroke="#23602f" stroke-width="1.1" stroke-linecap="round" stroke-linejoin="round"/><path d="M246.5,209.5 L249.0,204.5 L251.5,209.5" fill="none" stroke="#23602f" stroke-width="1.1" stroke-linecap="round" stroke-linejoin="round"/><path d="M315.5,211.9 L318.0,206.9 L320.5,211.9" fill="none" stroke="#23602f" stroke-width="1.1" stroke-linecap="round" stroke-linejoin="round"/><path d="M297.3,264.0 L299.8,259.0 L302.3,264.0" fill="none" stroke="#23602f" stroke-width="1.1" stroke-linecap="round" stroke-linejoin="round"/><path d="M302.5,202.4 L305.0,197.4 L307.5,202.4" fill="none" stroke="#23602f" stroke-width="1.1" stroke-linecap="round" stroke-linejoin="round"/><path d="M259.5,225.0 L262.0,220.0 L264.5,225.0" fill="none" stroke="#23602f" stroke-width="1.1" stroke-linecap="round" stroke-linejoin="round"/><path d="M228.5,217.0 L231.0,212.0 L233.5,217.0" fill="none" stroke="#23602f" stroke-width="1.1" stroke-linecap="round" stroke-linejoin="round"/><path d="M283.8,203.0 L286.0,198.5 L288.2,203.0" fill="none" stroke="#23602f" stroke-width="1.1" stroke-linecap="round" stroke-linejoin="round"/><path d="M331.5,240 l1.5,-7" stroke="#1f5a2b" stroke-width="1.1" stroke-linecap="round"/><path d="M273,204 l1.5,-7" stroke="#1f5a2b" stroke-width="1.1" stroke-linecap="round"/><path d="M321,226 l1.5,-7" stroke="#1f5a2b" stroke-width="1.1" stroke-linecap="round"/><path d="M477.5,228.5 v2.7" stroke="#27602f" stroke-width="1.1"/><circle cx="477.5" cy="226.0" r="3.0" fill="#3fa34c" stroke="#27702f" stroke-width="1.1"/><path d="M467.5,237.3 v2.5" stroke="#27602f" stroke-width="1.1"/><circle cx="467.5" cy="235.0" r="2.8" fill="#7fb389" stroke="#27702f" stroke-width="1.1"/><path d="M486.0,247.7 v2.9" stroke="#27602f" stroke-width="1.1"/><circle cx="486.0" cy="245.0" r="3.2" fill="#7fb389" stroke="#27702f" stroke-width="1.1"/><path d="M491.5,252.7 v2.9" stroke="#27602f" stroke-width="1.1"/><circle cx="491.5" cy="250.0" r="3.2" fill="#3fa34c" stroke="#27702f" stroke-width="1.1"/><path d="M499.0,250.2 v2.9" stroke="#27602f" stroke-width="1.1"/><circle cx="499.0" cy="247.5" r="3.2" fill="#7fb389" stroke="#27702f" stroke-width="1.1"/><path d="M507.5,252.7 v2.9" stroke="#27602f" stroke-width="1.1"/><circle cx="507.5" cy="250.0" r="3.2" fill="#7fb389" stroke="#27702f" stroke-width="1.1"/><path d="M524.0,234.0 v2.7" stroke="#27602f" stroke-width="1.1"/><circle cx="524.0" cy="231.5" r="3.0" fill="#7fb389" stroke="#27702f" stroke-width="1.1"/><path d="M535.0,232.5 v2.7" stroke="#27602f" stroke-width="1.1"/><circle cx="535.0" cy="230.0" r="3.0" fill="#3fa34c" stroke="#27702f" stroke-width="1.1"/><path d="M538.5,237.5 v2.7" stroke="#27602f" stroke-width="1.1"/><circle cx="538.5" cy="235.0" r="3.0" fill="#3fa34c" stroke="#27702f" stroke-width="1.1"/><path d="M542.5,251.5 v2.7" stroke="#27602f" stroke-width="1.1"/><circle cx="542.5" cy="249.0" r="3.0" fill="#7fb389" stroke="#27702f" stroke-width="1.1"/><path d="M531.0,261.5 v2.7" stroke="#27602f" stroke-width="1.1"/><circle cx="531.0" cy="259.0" r="3.0" fill="#3fa34c" stroke="#27702f" stroke-width="1.1"/><path d="M525.0,265.0 v2.7" stroke="#27602f" stroke-width="1.1"/><circle cx="525.0" cy="262.5" r="3.0" fill="#7fb389" stroke="#27702f" stroke-width="1.1"/><path d="M575.0,232.1 v2.3" stroke="#27602f" stroke-width="1.1"/><circle cx="575.0" cy="230.0" r="2.6" fill="#3fa34c" stroke="#27702f" stroke-width="1.1"/><path d="M580.0,233.6 v2.3" stroke="#27602f" stroke-width="1.1"/><circle cx="580.0" cy="231.5" r="2.6" fill="#7fb389" stroke="#27702f" stroke-width="1.1"/><path d="M587.5,230.6 v2.3" stroke="#27602f" stroke-width="1.1"/><circle cx="587.5" cy="228.5" r="2.6" fill="#3fa34c" stroke="#27702f" stroke-width="1.1"/><path d="M461.5,282.0 v2.2" stroke="#27602f" stroke-width="1.1"/><circle cx="461.5" cy="280.0" r="2.5" fill="#7fb389" stroke="#27702f" stroke-width="1.1"/><path d="M476.5,277.3 v2.5" stroke="#27602f" stroke-width="1.1"/><circle cx="476.5" cy="275.0" r="2.8" fill="#7fb389" stroke="#27702f" stroke-width="1.1"/><path d="M481.0,277.8 v2.5" stroke="#27602f" stroke-width="1.1"/><circle cx="481.0" cy="275.5" r="2.8" fill="#7fb389" stroke="#27702f" stroke-width="1.1"/><path d="M491.5,282.7 v2.9" stroke="#27602f" stroke-width="1.1"/><circle cx="491.5" cy="280.0" r="3.2" fill="#3fa34c" stroke="#27702f" stroke-width="1.1"/><path d="M497.5,285.2 v2.9" stroke="#27602f" stroke-width="1.1"/><circle cx="497.5" cy="282.5" r="3.2" fill="#7fb389" stroke="#27702f" stroke-width="1.1"/><path d="M509.0,285.2 v2.9" stroke="#27602f" stroke-width="1.1"/><circle cx="509.0" cy="282.5" r="3.2" fill="#3fa34c" stroke="#27702f" stroke-width="1.1"/><path d="M526.5,292.3 v2.5" stroke="#27602f" stroke-width="1.1"/><circle cx="526.5" cy="290.0" r="2.8" fill="#7fb389" stroke="#27702f" stroke-width="1.1"/><path d="M582.5,271.5 v2.7" stroke="#27602f" stroke-width="1.1"/><circle cx="582.5" cy="269.0" r="3.0" fill="#7fb389" stroke="#27702f" stroke-width="1.1"/><path d="M588.5,272.5 v2.7" stroke="#27602f" stroke-width="1.1"/><circle cx="588.5" cy="270.0" r="3.0" fill="#3fa34c" stroke="#27702f" stroke-width="1.1"/><path d="M545.0,239.1 v2.3" stroke="#27602f" stroke-width="1.1"/><circle cx="545.0" cy="237.0" r="2.6" fill="#3fa34c" stroke="#27702f" stroke-width="1.1"/><path d="M533.0,224.2 v2.0" stroke="#27602f" stroke-width="1.1"/><circle cx="533.0" cy="222.5" r="2.2" fill="#3fa34c" stroke="#27702f" stroke-width="1.1"/><path d="M544.0,225.7 v2.0" stroke="#27602f" stroke-width="1.1"/><circle cx="544.0" cy="224.0" r="2.2" fill="#7fb389" stroke="#27702f" stroke-width="1.1"/><path d="M656.0,305.8 v4.3" stroke="#27602f" stroke-width="1.1"/><circle cx="656.0" cy="301.5" r="4.8" fill="#3fa34c" stroke="#27702f" stroke-width="1.1"/><path d="M684.0,310.2 v2.0" stroke="#27602f" stroke-width="1.1"/><circle cx="684.0" cy="308.5" r="2.2" fill="#3fa34c" stroke="#27702f" stroke-width="1.1"/><path d="M702.5,308.8 v4.3" stroke="#27602f" stroke-width="1.1"/><circle cx="702.5" cy="304.5" r="4.8" fill="#3fa34c" stroke="#27702f" stroke-width="1.1"/><path d="M709.5,313.1 v4.3" stroke="#27602f" stroke-width="1.1"/><circle cx="709.5" cy="308.8" r="4.8" fill="#3fa34c" stroke="#27702f" stroke-width="1.1"/><path d="M695.0,314.2 v2.0" stroke="#27602f" stroke-width="1.1"/><circle cx="695.0" cy="312.5" r="2.2" fill="#8fd06a" stroke="#27702f" stroke-width="1.1"/><path d="M718.0,319.5 v2.3" stroke="#27602f" stroke-width="1.1"/><circle cx="718.0" cy="317.4" r="2.6" fill="#7fb389" stroke="#27702f" stroke-width="1.1"/><path d="M722.6,318.7 v2.3" stroke="#27602f" stroke-width="1.1"/><circle cx="722.6" cy="316.6" r="2.6" fill="#7fb389" stroke="#27702f" stroke-width="1.1"/><path d="M746.0,349.8 v2.5" stroke="#27602f" stroke-width="1.1"/><circle cx="746.0" cy="347.5" r="2.8" fill="#7fb389" stroke="#27702f" stroke-width="1.1"/><path d="M757.5,355.3 v2.5" stroke="#27602f" stroke-width="1.1"/><circle cx="757.5" cy="353.0" r="2.8" fill="#7fb389" stroke="#27702f" stroke-width="1.1"/><path d="M762.5,352.5 v2.7" stroke="#27602f" stroke-width="1.1"/><circle cx="762.5" cy="350.0" r="3.0" fill="#7fb389" stroke="#27702f" stroke-width="1.1"/><path d="M768.0,324.9 v3.1" stroke="#27602f" stroke-width="1.1"/><circle cx="768.0" cy="322.0" r="3.4" fill="#3fa34c" stroke="#27702f" stroke-width="1.1"/><path d="M606.0,304.7 v2.0" stroke="#27602f" stroke-width="1.1"/><circle cx="606.0" cy="303.0" r="2.2" fill="#7fb389" stroke="#27702f" stroke-width="1.1"/><path d="M570.0,293.4 v4.0" stroke="#27602f" stroke-width="1.1"/><circle cx="570.0" cy="289.5" r="4.4" fill="#3fa34c" stroke="#27702f" stroke-width="1.1"/><path d="M585.4,294.6 v4.0" stroke="#27602f" stroke-width="1.1"/><circle cx="585.4" cy="290.7" r="4.4" fill="#7fb389" stroke="#27702f" stroke-width="1.1"/><path d="M564.4,298.1 v3.8" stroke="#27602f" stroke-width="1.1"/><circle cx="564.4" cy="294.4" r="4.2" fill="#7fb389" stroke="#27702f" stroke-width="1.1"/><path d="M577.4,298.3 v4.0" stroke="#27602f" stroke-width="1.1"/><circle cx="577.4" cy="294.4" r="4.4" fill="#3fa34c" stroke="#27702f" stroke-width="1.1"/><path d="M571.0,300.1 v3.2" stroke="#27602f" stroke-width="1.1"/><circle cx="571.0" cy="297.0" r="3.6" fill="#7fb389" stroke="#27702f" stroke-width="1.1"/><path d="M584.0,299.6 v3.2" stroke="#27602f" stroke-width="1.1"/><circle cx="584.0" cy="296.5" r="3.6" fill="#3fa34c" stroke="#27702f" stroke-width="1.1"/>
<ellipse cx="243" cy="304" rx="22" ry="5" fill="#86d346" opacity=".75" transform="rotate(-6 243 304)"/><ellipse cx="484" cy="324" rx="17" ry="5" fill="#86d346" opacity=".75" transform="rotate(3 484 324)"/><ellipse cx="600" cy="300" rx="14" ry="5" fill="#86d346" opacity=".75" transform="rotate(0 600 300)"/><ellipse cx="560" cy="262" rx="12" ry="5" fill="#86d346" opacity=".75" transform="rotate(0 560 262)"/><ellipse cx="700" cy="298" rx="10" ry="4" fill="#86d346" opacity=".75" transform="rotate(0 700 298)"/><ellipse cx="645" cy="290" rx="10" ry="4" fill="#86d346" opacity=".75" transform="rotate(0 645 290)"/><ellipse cx="735" cy="340" rx="10" ry="3" fill="#86d346" opacity=".75" transform="rotate(0 735 340)"/><path d="M680.0,237.6 C680.5,236.2 679.1,235.6 684.5,234.6 C689.9,233.6 693.5,233.7 703.0,233.2 C712.5,232.7 715.0,232.7 725.0,232.6 C735.0,232.5 737.6,232.5 746.0,232.6 C754.4,232.7 754.7,232.7 761.0,233.1 C767.3,233.5 769.5,232.8 773.0,234.2 C776.5,235.6 776.0,236.6 776.0,239.0 C776.0,241.4 776.7,242.8 773.0,244.6 C769.3,246.4 767.7,246.0 760.0,246.9 C752.3,247.8 749.3,248.0 740.0,248.6 C730.7,249.2 728.6,249.4 720.0,249.3 C711.4,249.2 710.0,249.2 703.0,248.0 C696.0,246.8 694.8,245.9 690.0,244.2 C685.2,242.4 684.8,242.0 682.5,240.5 C680.2,239.0 679.5,239.0 680.0,237.6 Z" fill="#2ea3dc" stroke="#1b665c" stroke-width="1.7" stroke-linejoin="round"/><path d="M690.0,238.5 C691.6,237.0 693.3,236.8 705.0,236.0 C716.7,235.2 725.3,235.1 740.0,235.2 C754.7,235.3 761.5,234.9 768.0,236.5 C774.5,238.1 773.4,240.1 768.0,242.0 C762.6,243.9 757.4,243.8 745.0,244.5 C732.6,245.2 726.0,245.5 715.0,245.0 C704.0,244.5 703.8,244.0 698.0,242.5 C692.2,241.0 688.4,240.0 690.0,238.5 Z" fill="#3bb0e6" opacity=".8"/><path d="M624.7,278.1 L728.8,258.4 L772,269 L772,276 L688.4,297 Z" fill="#a08c78" stroke="#4b3a2a" stroke-width="1.3" stroke-linejoin="round"/><path d="M688.4,297 L772,275.8 L772,311.5 L749.4,316.6 Z" fill="#cd9860" stroke="#4b3a2a" stroke-width="1.3" stroke-linejoin="round"/><path d="M706,295 l8,2.4" stroke="#8a5528" stroke-width="1.3" stroke-linecap="round"/><path d="M722,300 l8,2.4" stroke="#8a5528" stroke-width="1.3" stroke-linecap="round"/><path d="M738,304 l8,2.4" stroke="#8a5528" stroke-width="1.3" stroke-linecap="round"/><path d="M728,289 l8,2.4" stroke="#8a5528" stroke-width="1.3" stroke-linecap="round"/><path d="M743,293 l8,2.4" stroke="#8a5528" stroke-width="1.3" stroke-linecap="round"/><path d="M757,298 l8,2.4" stroke="#8a5528" stroke-width="1.3" stroke-linecap="round"/><path d="M748,284 l8,2.4" stroke="#8a5528" stroke-width="1.3" stroke-linecap="round"/><path d="M762,288 l8,2.4" stroke="#8a5528" stroke-width="1.3" stroke-linecap="round"/><path d="M716,305 l8,2.4" stroke="#8a5528" stroke-width="1.3" stroke-linecap="round"/><path d="M736,311 l8,2.4" stroke="#8a5528" stroke-width="1.3" stroke-linecap="round"/><path d="M752,308 l8,2.4" stroke="#8a5528" stroke-width="1.3" stroke-linecap="round"/><ellipse cx="643.0" cy="277.5" rx="2.2" ry="2.7" fill="#a9cc7c" stroke="#4e8a52" stroke-width=".7"/><ellipse cx="652.2" cy="280.4" rx="2.2" ry="2.7" fill="#8fb996" stroke="#4e8a52" stroke-width=".7"/><ellipse cx="661.5" cy="283.2" rx="2.2" ry="2.7" fill="#8fb996" stroke="#4e8a52" stroke-width=".7"/><ellipse cx="670.8" cy="286.1" rx="2.2" ry="2.7" fill="#8fb996" stroke="#4e8a52" stroke-width=".7"/><ellipse cx="680.0" cy="289.0" rx="2.2" ry="2.7" fill="#8fb996" stroke="#4e8a52" stroke-width=".7"/><ellipse cx="648.3" cy="276.5" rx="2.2" ry="2.7" fill="#8fb996" stroke="#4e8a52" stroke-width=".7"/><ellipse cx="657.6" cy="279.4" rx="2.2" ry="2.7" fill="#a9cc7c" stroke="#4e8a52" stroke-width=".7"/><ellipse cx="666.8" cy="282.2" rx="2.2" ry="2.7" fill="#8fb996" stroke="#4e8a52" stroke-width=".7"/><ellipse cx="676.1" cy="285.1" rx="2.2" ry="2.7" fill="#8fb996" stroke="#4e8a52" stroke-width=".7"/><ellipse cx="685.3" cy="288.0" rx="2.2" ry="2.7" fill="#8fb996" stroke="#4e8a52" stroke-width=".7"/><ellipse cx="653.7" cy="275.5" rx="2.2" ry="2.7" fill="#8fb996" stroke="#4e8a52" stroke-width=".7"/><ellipse cx="662.9" cy="278.4" rx="2.2" ry="2.7" fill="#8fb996" stroke="#4e8a52" stroke-width=".7"/><ellipse cx="672.2" cy="281.2" rx="2.2" ry="2.7" fill="#a9cc7c" stroke="#4e8a52" stroke-width=".7"/><ellipse cx="681.4" cy="284.1" rx="2.2" ry="2.7" fill="#8fb996" stroke="#4e8a52" stroke-width=".7"/><ellipse cx="690.7" cy="287.0" rx="2.2" ry="2.7" fill="#8fb996" stroke="#4e8a52" stroke-width=".7"/><ellipse cx="659.0" cy="274.5" rx="2.2" ry="2.7" fill="#8fb996" stroke="#4e8a52" stroke-width=".7"/><ellipse cx="668.2" cy="277.4" rx="2.2" ry="2.7" fill="#8fb996" stroke="#4e8a52" stroke-width=".7"/><ellipse cx="677.5" cy="280.2" rx="2.2" ry="2.7" fill="#8fb996" stroke="#4e8a52" stroke-width=".7"/><ellipse cx="686.8" cy="283.1" rx="2.2" ry="2.7" fill="#a9cc7c" stroke="#4e8a52" stroke-width=".7"/><ellipse cx="696.0" cy="286.0" rx="2.2" ry="2.7" fill="#8fb996" stroke="#4e8a52" stroke-width=".7"/><ellipse cx="664.3" cy="273.5" rx="2.2" ry="2.7" fill="#8fb996" stroke="#4e8a52" stroke-width=".7"/><ellipse cx="673.6" cy="276.4" rx="2.2" ry="2.7" fill="#8fb996" stroke="#4e8a52" stroke-width=".7"/><ellipse cx="682.8" cy="279.2" rx="2.2" ry="2.7" fill="#8fb996" stroke="#4e8a52" stroke-width=".7"/><ellipse cx="692.1" cy="282.1" rx="2.2" ry="2.7" fill="#8fb996" stroke="#4e8a52" stroke-width=".7"/><ellipse cx="701.3" cy="285.0" rx="2.2" ry="2.7" fill="#a9cc7c" stroke="#4e8a52" stroke-width=".7"/><ellipse cx="669.7" cy="272.5" rx="2.2" ry="2.7" fill="#a9cc7c" stroke="#4e8a52" stroke-width=".7"/><ellipse cx="678.9" cy="275.4" rx="2.2" ry="2.7" fill="#8fb996" stroke="#4e8a52" stroke-width=".7"/><ellipse cx="688.2" cy="278.2" rx="2.2" ry="2.7" fill="#8fb996" stroke="#4e8a52" stroke-width=".7"/><ellipse cx="697.4" cy="281.1" rx="2.2" ry="2.7" fill="#8fb996" stroke="#4e8a52" stroke-width=".7"/><ellipse cx="706.7" cy="284.0" rx="2.2" ry="2.7" fill="#8fb996" stroke="#4e8a52" stroke-width=".7"/><ellipse cx="675.0" cy="271.5" rx="2.2" ry="2.7" fill="#8fb996" stroke="#4e8a52" stroke-width=".7"/><ellipse cx="684.2" cy="274.4" rx="2.2" ry="2.7" fill="#a9cc7c" stroke="#4e8a52" stroke-width=".7"/><ellipse cx="693.5" cy="277.2" rx="2.2" ry="2.7" fill="#8fb996" stroke="#4e8a52" stroke-width=".7"/><ellipse cx="702.8" cy="280.1" rx="2.2" ry="2.7" fill="#8fb996" stroke="#4e8a52" stroke-width=".7"/><ellipse cx="712.0" cy="283.0" rx="2.2" ry="2.7" fill="#8fb996" stroke="#4e8a52" stroke-width=".7"/><ellipse cx="680.3" cy="270.5" rx="2.2" ry="2.7" fill="#8fb996" stroke="#4e8a52" stroke-width=".7"/><ellipse cx="689.6" cy="273.4" rx="2.2" ry="2.7" fill="#8fb996" stroke="#4e8a52" stroke-width=".7"/><ellipse cx="698.8" cy="276.2" rx="2.2" ry="2.7" fill="#a9cc7c" stroke="#4e8a52" stroke-width=".7"/><ellipse cx="708.1" cy="279.1" rx="2.2" ry="2.7" fill="#8fb996" stroke="#4e8a52" stroke-width=".7"/><ellipse cx="717.3" cy="282.0" rx="2.2" ry="2.7" fill="#8fb996" stroke="#4e8a52" stroke-width=".7"/><ellipse cx="685.7" cy="269.5" rx="2.2" ry="2.7" fill="#8fb996" stroke="#4e8a52" stroke-width=".7"/><ellipse cx="694.9" cy="272.4" rx="2.2" ry="2.7" fill="#8fb996" stroke="#4e8a52" stroke-width=".7"/><ellipse cx="704.2" cy="275.2" rx="2.2" ry="2.7" fill="#8fb996" stroke="#4e8a52" stroke-width=".7"/><ellipse cx="713.4" cy="278.1" rx="2.2" ry="2.7" fill="#a9cc7c" stroke="#4e8a52" stroke-width=".7"/><ellipse cx="722.7" cy="281.0" rx="2.2" ry="2.7" fill="#8fb996" stroke="#4e8a52" stroke-width=".7"/><ellipse cx="691.0" cy="268.5" rx="2.2" ry="2.7" fill="#8fb996" stroke="#4e8a52" stroke-width=".7"/><ellipse cx="700.2" cy="271.4" rx="2.2" ry="2.7" fill="#8fb996" stroke="#4e8a52" stroke-width=".7"/><ellipse cx="709.5" cy="274.2" rx="2.2" ry="2.7" fill="#8fb996" stroke="#4e8a52" stroke-width=".7"/><ellipse cx="718.8" cy="277.1" rx="2.2" ry="2.7" fill="#8fb996" stroke="#4e8a52" stroke-width=".7"/><ellipse cx="728.0" cy="280.0" rx="2.2" ry="2.7" fill="#a9cc7c" stroke="#4e8a52" stroke-width=".7"/><ellipse cx="706.0" cy="268.5" rx="2.2" ry="2.7" fill="#a9cc7c" stroke="#4e8a52" stroke-width=".7"/><ellipse cx="712.5" cy="270.6" rx="2.2" ry="2.7" fill="#8fb996" stroke="#4e8a52" stroke-width=".7"/><ellipse cx="719.0" cy="272.7" rx="2.2" ry="2.7" fill="#8fb996" stroke="#4e8a52" stroke-width=".7"/><ellipse cx="725.5" cy="274.8" rx="2.2" ry="2.7" fill="#8fb996" stroke="#4e8a52" stroke-width=".7"/><ellipse cx="732.0" cy="276.8" rx="2.2" ry="2.7" fill="#8fb996" stroke="#4e8a52" stroke-width=".7"/><ellipse cx="738.5" cy="278.9" rx="2.2" ry="2.7" fill="#a9cc7c" stroke="#4e8a52" stroke-width=".7"/><ellipse cx="745.0" cy="281.0" rx="2.2" ry="2.7" fill="#8fb996" stroke="#4e8a52" stroke-width=".7"/><ellipse cx="712.2" cy="267.2" rx="2.2" ry="2.7" fill="#8fb996" stroke="#4e8a52" stroke-width=".7"/><ellipse cx="718.8" cy="269.3" rx="2.2" ry="2.7" fill="#a9cc7c" stroke="#4e8a52" stroke-width=".7"/><ellipse cx="725.2" cy="271.4" rx="2.2" ry="2.7" fill="#8fb996" stroke="#4e8a52" stroke-width=".7"/><ellipse cx="731.8" cy="273.5" rx="2.2" ry="2.7" fill="#8fb996" stroke="#4e8a52" stroke-width=".7"/><ellipse cx="738.2" cy="275.6" rx="2.2" ry="2.7" fill="#8fb996" stroke="#4e8a52" stroke-width=".7"/><ellipse cx="744.8" cy="277.7" rx="2.2" ry="2.7" fill="#8fb996" stroke="#4e8a52" stroke-width=".7"/><ellipse cx="751.2" cy="279.8" rx="2.2" ry="2.7" fill="#a9cc7c" stroke="#4e8a52" stroke-width=".7"/><ellipse cx="718.5" cy="266.0" rx="2.2" ry="2.7" fill="#8fb996" stroke="#4e8a52" stroke-width=".7"/><ellipse cx="725.0" cy="268.1" rx="2.2" ry="2.7" fill="#8fb996" stroke="#4e8a52" stroke-width=".7"/><ellipse cx="731.5" cy="270.2" rx="2.2" ry="2.7" fill="#a9cc7c" stroke="#4e8a52" stroke-width=".7"/><ellipse cx="738.0" cy="272.2" rx="2.2" ry="2.7" fill="#8fb996" stroke="#4e8a52" stroke-width=".7"/><ellipse cx="744.5" cy="274.3" rx="2.2" ry="2.7" fill="#8fb996" stroke="#4e8a52" stroke-width=".7"/><ellipse cx="751.0" cy="276.4" rx="2.2" ry="2.7" fill="#8fb996" stroke="#4e8a52" stroke-width=".7"/><ellipse cx="757.5" cy="278.5" rx="2.2" ry="2.7" fill="#8fb996" stroke="#4e8a52" stroke-width=".7"/><ellipse cx="724.8" cy="264.8" rx="2.2" ry="2.7" fill="#8fb996" stroke="#4e8a52" stroke-width=".7"/><ellipse cx="731.2" cy="266.8" rx="2.2" ry="2.7" fill="#8fb996" stroke="#4e8a52" stroke-width=".7"/><ellipse cx="737.8" cy="268.9" rx="2.2" ry="2.7" fill="#8fb996" stroke="#4e8a52" stroke-width=".7"/><ellipse cx="744.2" cy="271.0" rx="2.2" ry="2.7" fill="#a9cc7c" stroke="#4e8a52" stroke-width=".7"/><ellipse cx="750.8" cy="273.1" rx="2.2" ry="2.7" fill="#8fb996" stroke="#4e8a52" stroke-width=".7"/><ellipse cx="757.2" cy="275.2" rx="2.2" ry="2.7" fill="#8fb996" stroke="#4e8a52" stroke-width=".7"/><ellipse cx="763.8" cy="277.2" rx="2.2" ry="2.7" fill="#8fb996" stroke="#4e8a52" stroke-width=".7"/><ellipse cx="731.0" cy="263.5" rx="2.2" ry="2.7" fill="#8fb996" stroke="#4e8a52" stroke-width=".7"/><ellipse cx="737.5" cy="265.6" rx="2.2" ry="2.7" fill="#8fb996" stroke="#4e8a52" stroke-width=".7"/><ellipse cx="744.0" cy="267.7" rx="2.2" ry="2.7" fill="#8fb996" stroke="#4e8a52" stroke-width=".7"/><ellipse cx="750.5" cy="269.8" rx="2.2" ry="2.7" fill="#8fb996" stroke="#4e8a52" stroke-width=".7"/><ellipse cx="757.0" cy="271.8" rx="2.2" ry="2.7" fill="#a9cc7c" stroke="#4e8a52" stroke-width=".7"/><ellipse cx="763.5" cy="273.9" rx="2.2" ry="2.7" fill="#8fb996" stroke="#4e8a52" stroke-width=".7"/><path d="M547,260.5 Q556,256 575,252 L640,246 L666,252.5 Q656,258 638,268 L610,272 L570,268 Z" fill="#b9b9bd"/><path d="M603,246 l10,-2 V256 L603,258 Z" fill="#f6e6a8" stroke="#3a2a25" stroke-width="1.1" stroke-linejoin="round"/><path d="M590,258 V246 L596.5,239.5 L603,246 V258 Z" fill="#f6e6a8" stroke="#3a2a25" stroke-width="1.1" stroke-linejoin="round"/><path d="M596.5,239.5 l10,-2 L614,245 L603.6,247 Z" fill="#f2dc92" stroke="#3a2a25" stroke-width="1.1" stroke-linejoin="round"/><rect x="595.4" y="253" width="2.2" height="5" fill="#3a2a25" opacity=".85"/><circle cx="593.9" cy="248" r=".9" fill="#3a2a25"/><circle cx="599.1" cy="248" r=".9" fill="#3a2a25"/><path d="M574.5,249 l11,-2 V258.5 L574.5,260.5 Z" fill="#eebfcc" stroke="#3a2a25" stroke-width="1.1" stroke-linejoin="round"/><path d="M561.5,260.5 V249 L568.0,242 L574.5,249 V260.5 Z" fill="#f6cdd8" stroke="#3a2a25" stroke-width="1.1" stroke-linejoin="round"/><path d="M568.0,242 l11,-2 L586.5,248 L575.1,250 Z" fill="#c3aacb" stroke="#3a2a25" stroke-width="1.1" stroke-linejoin="round"/><rect x="566.9" y="255.5" width="2.2" height="5" fill="#3a2a25" opacity=".85"/><circle cx="565.4" cy="251" r=".9" fill="#3a2a25"/><circle cx="570.6" cy="251" r=".9" fill="#3a2a25"/><path d="M652.1,246 l0,0 V252.5 L652.1,252.5 Z" fill="#fff" stroke="#3a2a25" stroke-width="1.1" stroke-linejoin="round"/><path d="M652,252.5 V246 L652.05,246 L652.1,246 V252.5 Z" fill="#fff" stroke="#3a2a25" stroke-width="1.1" stroke-linejoin="round"/><path d="M652.05,246 l0,0 L653.1,247 L652.7,247 Z" fill="#fff" stroke="#3a2a25" stroke-width="1.1" stroke-linejoin="round"/><rect x="650.9499999999999" y="247.5" width="2.2" height="5" fill="#3a2a25" opacity=".85"/><circle cx="652.03" cy="248" r=".9" fill="#3a2a25"/><circle cx="652.07" cy="248" r=".9" fill="#3a2a25"/><path d="M651,252.5 V243.5 L657,241.7 L664.3,244 V252 Z" fill="#fff" stroke="#3a2a25" stroke-width="1.1" stroke-linejoin="round"/><path d="M650.5,243.7 L657,241.5 L665,244.2 L660,246 Z" fill="#e23b3b" stroke="#3a2a25" stroke-width="1"/><path d="M618.8,251 l7.5,-4.5 V253.0 L618.8,257.5 Z" fill="#f6cdd8" stroke="#3a2a25" stroke-width="1.1" stroke-linejoin="round"/><path d="M607.4,257.5 V251 L613.1,244.5 L618.8,251 V257.5 Z" fill="#f6cdd8" stroke="#3a2a25" stroke-width="1.1" stroke-linejoin="round"/><path d="M613.1,244.5 l7.5,-4.5 L627.3,247.5 L619.4,252 Z" fill="#27a89d" stroke="#3a2a25" stroke-width="1.1" stroke-linejoin="round"/><rect x="612.0" y="252.5" width="2.2" height="5" fill="#3a2a25" opacity=".85"/><circle cx="610.8199999999999" cy="253" r=".9" fill="#3a2a25"/><circle cx="615.38" cy="253" r=".9" fill="#3a2a25"/><path d="M631.9,251.5 l8,-5 V252 L631.9,257 Z" fill="#cfe9f6" stroke="#3a2a25" stroke-width="1.1" stroke-linejoin="round"/><path d="M620.5,257 V251.5 L626.2,245.5 L631.9,251.5 V257 Z" fill="#cfe9f6" stroke="#3a2a25" stroke-width="1.1" stroke-linejoin="round"/><path d="M626.2,245.5 l8,-5 L640.9,247.5 L632.5,252.5 Z" fill="#27a89d" stroke="#3a2a25" stroke-width="1.1" stroke-linejoin="round"/><rect x="625.1" y="252" width="2.2" height="5" fill="#3a2a25" opacity=".85"/><circle cx="623.92" cy="253.5" r=".9" fill="#3a2a25"/><circle cx="628.48" cy="253.5" r=".9" fill="#3a2a25"/><path d="M644.0999999999999,253.5 l7,-5 V255.39999999999998 L644.0999999999999,260.4 Z" fill="#f0cf78" stroke="#3a2a25" stroke-width="1.1" stroke-linejoin="round"/><path d="M632.8,260.4 V253.5 L638.4499999999999,247.3 L644.0999999999999,253.5 V260.4 Z" fill="#f6d98a" stroke="#3a2a25" stroke-width="1.1" stroke-linejoin="round"/><path d="M638.4499999999999,247.3 l7,-5 L652.0999999999999,249.5 L644.6999999999999,254.5 Z" fill="#27a89d" stroke="#3a2a25" stroke-width="1.1" stroke-linejoin="round"/><rect x="637.3499999999999" y="255.39999999999998" width="2.2" height="5" fill="#3a2a25" opacity=".85"/><circle cx="636.1899999999999" cy="255.5" r=".9" fill="#3a2a25"/><circle cx="640.7099999999999" cy="255.5" r=".9" fill="#3a2a25"/><path d="M596,252.5 l8,-1 V261 L596,262 Z" fill="#f0cf78" stroke="#3a2a25" stroke-width="1.1" stroke-linejoin="round"/><path d="M583,262 V252.5 L589.5,245.5 L596,252.5 V262 Z" fill="#f6d98a" stroke="#3a2a25" stroke-width="1.1" stroke-linejoin="round"/><path d="M589.5,245.5 l8,-1 L605,252.5 L596.6,253.5 Z" fill="#e23b3b" stroke="#3a2a25" stroke-width="1.1" stroke-linejoin="round"/><rect x="588.4" y="257" width="2.2" height="5" fill="#3a2a25" opacity=".85"/><circle cx="586.9" cy="254.5" r=".9" fill="#3a2a25"/><circle cx="592.1" cy="254.5" r=".9" fill="#3a2a25"/><path d="M561.9,256 l9.5,-2.6 V264.79999999999995 L561.9,267.4 Z" fill="#f0cf78" stroke="#3a2a25" stroke-width="1.1" stroke-linejoin="round"/><path d="M551.4,267.4 V256 H561.9 V267.4 Z" fill="#f6d98a" stroke="#3a2a25" stroke-width="1.1" stroke-linejoin="round"/><path d="M551.4,256 l9.5,-2.6 h10.5 l-9.5,2.6 Z" fill="#8a6a55" stroke="#3a2a25" stroke-width="1.1" stroke-linejoin="round"/><rect x="555.55" y="262.4" width="2.2" height="5" fill="#3a2a25" opacity=".85"/><circle cx="554.025" cy="259.5" r=".9" fill="#3a2a25"/><circle cx="559.275" cy="259.5" r=".9" fill="#3a2a25"/><path d="M608.6,261 l7.5,-2.4 V268.6 L608.6,271 Z" fill="#f2dfa0" stroke="#3a2a25" stroke-width="1.1" stroke-linejoin="round"/><path d="M598.6,271 V261 H608.6 V271 Z" fill="#f8e9b0" stroke="#3a2a25" stroke-width="1.1" stroke-linejoin="round"/><path d="M598.6,261 l7.5,-2.4 h10 l-7.5,2.4 Z" fill="#f4e2a0" stroke="#3a2a25" stroke-width="1.1" stroke-linejoin="round"/><rect x="602.5" y="266" width="2.2" height="5" fill="#3a2a25" opacity=".85"/><circle cx="601.1" cy="264.5" r=".9" fill="#3a2a25"/><circle cx="606.1" cy="264.5" r=".9" fill="#3a2a25"/><path d="M627.5,258.5 l7,-2.5 V268.5 L627.5,271 Z" fill="#e9dcf0" stroke="#3a2a25" stroke-width="1.1" stroke-linejoin="round"/><path d="M617,271 V258.5 H627.5 V271 Z" fill="#fbf3fb" stroke="#3a2a25" stroke-width="1.1" stroke-linejoin="round"/><path d="M617,258.5 l7,-2.5 h10.5 l-7,2.5 Z" fill="#e6d8ee" stroke="#3a2a25" stroke-width="1.1" stroke-linejoin="round"/><rect x="621.15" y="266" width="2.2" height="5" fill="#3a2a25" opacity=".85"/><circle cx="619.625" cy="262.0" r=".9" fill="#3a2a25"/><circle cx="624.875" cy="262.0" r=".9" fill="#3a2a25"/>
<g opacity=".32"><path d="M283.9,130.7 l-1.4,4.8" stroke="#3d817e" stroke-width="1.35" stroke-linecap="round" opacity="0.9"/><path d="M229.6,178.4 l-1.4,4.8" stroke="#3d817e" stroke-width="1.35" stroke-linecap="round" opacity="0.9"/><path d="M226.5,174.9 l-1.4,4.8" stroke="#3d817e" stroke-width="1.35" stroke-linecap="round" opacity="0.9"/><path d="M307.7,120.7 l-1.4,4.8" stroke="#3d817e" stroke-width="1.35" stroke-linecap="round" opacity="0.9"/><path d="M240.7,139.7 l-1.4,4.8" stroke="#3d817e" stroke-width="1.35" stroke-linecap="round" opacity="0.9"/><path d="M276.6,129.9 l-1.4,4.8" stroke="#3d817e" stroke-width="1.35" stroke-linecap="round" opacity="0.9"/><path d="M253.0,184.1 l-1.4,4.8" stroke="#3d817e" stroke-width="1.35" stroke-linecap="round" opacity="0.9"/><path d="M294.4,179.9 l-1.4,4.8" stroke="#3d817e" stroke-width="1.35" stroke-linecap="round" opacity="0.9"/><path d="M361.0,165.0 l-1.4,4.8" stroke="#3d817e" stroke-width="1.35" stroke-linecap="round" opacity="0.9"/><path d="M340.5,168.2 l-1.4,4.8" stroke="#3d817e" stroke-width="1.35" stroke-linecap="round" opacity="0.9"/><path d="M266.7,183.2 l-1.4,4.8" stroke="#3d817e" stroke-width="1.35" stroke-linecap="round" opacity="0.9"/><path d="M239.5,163.8 l-1.4,4.8" stroke="#3d817e" stroke-width="1.35" stroke-linecap="round" opacity="0.9"/><path d="M246.8,172.6 l-1.4,4.8" stroke="#3d817e" stroke-width="1.35" stroke-linecap="round" opacity="0.9"/><path d="M358.3,206.8 l-1.4,4.8" stroke="#3d817e" stroke-width="1.35" stroke-linecap="round" opacity="0.9"/><path d="M403.1,150.9 l-1.4,4.8" stroke="#3d817e" stroke-width="1.35" stroke-linecap="round" opacity="0.9"/><path d="M342.4,183.9 l-1.4,4.8" stroke="#3d817e" stroke-width="1.35" stroke-linecap="round" opacity="0.9"/><path d="M316.4,194.4 l-1.4,4.8" stroke="#3d817e" stroke-width="1.35" stroke-linecap="round" opacity="0.9"/><path d="M365.5,192.2 l-1.4,4.8" stroke="#62b7c4" stroke-width="1.35" stroke-linecap="round" opacity="0.9"/><path d="M391.5,147.3 l-1.4,4.8" stroke="#3d817e" stroke-width="1.35" stroke-linecap="round" opacity="0.9"/><path d="M313.7,132.8 l-1.4,4.8" stroke="#3d817e" stroke-width="1.35" stroke-linecap="round" opacity="0.9"/><path d="M241.9,142.7 l-1.4,4.8" stroke="#3d817e" stroke-width="1.35" stroke-linecap="round" opacity="0.9"/><path d="M311.0,180.1 l-1.4,4.8" stroke="#62b7c4" stroke-width="1.35" stroke-linecap="round" opacity="0.9"/><path d="M274.1,163.5 l-1.4,4.8" stroke="#3d817e" stroke-width="1.35" stroke-linecap="round" opacity="0.9"/><path d="M264.1,140.9 l-1.4,4.8" stroke="#3d817e" stroke-width="1.35" stroke-linecap="round" opacity="0.9"/><path d="M341.3,144.6 l-1.4,4.8" stroke="#3d817e" stroke-width="1.35" stroke-linecap="round" opacity="0.9"/><path d="M304.5,157.8 l-1.4,4.8" stroke="#3d817e" stroke-width="1.35" stroke-linecap="round" opacity="0.9"/><path d="M325.3,188.6 l-1.4,4.8" stroke="#3d817e" stroke-width="1.35" stroke-linecap="round" opacity="0.9"/><path d="M386.3,160.7 l-1.4,4.8" stroke="#3d817e" stroke-width="1.35" stroke-linecap="round" opacity="0.9"/><path d="M236.4,190.7 l-1.4,4.8" stroke="#3d817e" stroke-width="1.35" stroke-linecap="round" opacity="0.9"/><path d="M249.1,154.2 l-1.4,4.8" stroke="#3d817e" stroke-width="1.35" stroke-linecap="round" opacity="0.9"/><path d="M235.9,157.1 l-1.4,4.8" stroke="#3d817e" stroke-width="1.35" stroke-linecap="round" opacity="0.9"/><path d="M246.1,143.3 l-1.4,4.8" stroke="#3d817e" stroke-width="1.35" stroke-linecap="round" opacity="0.9"/><path d="M292.7,127.2 l-1.4,4.8" stroke="#62b7c4" stroke-width="1.35" stroke-linecap="round" opacity="0.9"/><path d="M318.5,122.6 l-1.4,4.8" stroke="#3d817e" stroke-width="1.35" stroke-linecap="round" opacity="0.9"/><path d="M288.0,144.8 l-1.4,4.8" stroke="#62b7c4" stroke-width="1.35" stroke-linecap="round" opacity="0.9"/><path d="M245.7,179.4 l-1.4,4.8" stroke="#3d817e" stroke-width="1.35" stroke-linecap="round" opacity="0.9"/><path d="M270.4,157.5 l-1.4,4.8" stroke="#3d817e" stroke-width="1.35" stroke-linecap="round" opacity="0.9"/><path d="M380.7,178.0 l-1.4,4.8" stroke="#3d817e" stroke-width="1.35" stroke-linecap="round" opacity="0.9"/><path d="M285.2,139.7 l-1.4,4.8" stroke="#62b7c4" stroke-width="1.35" stroke-linecap="round" opacity="0.9"/><path d="M373.8,140.1 l-1.4,4.8" stroke="#3d817e" stroke-width="1.35" stroke-linecap="round" opacity="0.9"/><path d="M220.0,146.6 l-1.4,4.8" stroke="#3d817e" stroke-width="1.35" stroke-linecap="round" opacity="0.9"/><path d="M292.8,139.3 l-1.4,4.8" stroke="#3d817e" stroke-width="1.35" stroke-linecap="round" opacity="0.9"/><path d="M395.5,171.5 l-1.4,4.8" stroke="#3d817e" stroke-width="1.35" stroke-linecap="round" opacity="0.9"/><path d="M317.3,134.1 l-1.4,4.8" stroke="#3d817e" stroke-width="1.35" stroke-linecap="round" opacity="0.9"/><path d="M289.7,180.0 l-1.4,4.8" stroke="#3d817e" stroke-width="1.35" stroke-linecap="round" opacity="0.9"/><path d="M354.3,177.3 l-1.4,4.8" stroke="#62b7c4" stroke-width="1.35" stroke-linecap="round" opacity="0.9"/><path d="M392.4,138.2 l-1.4,4.8" stroke="#3d817e" stroke-width="1.35" stroke-linecap="round" opacity="0.9"/><path d="M277.3,141.8 l-1.4,4.8" stroke="#3d817e" stroke-width="1.35" stroke-linecap="round" opacity="0.9"/><path d="M270.0,164.0 l-1.4,4.8" stroke="#3d817e" stroke-width="1.35" stroke-linecap="round" opacity="0.9"/><path d="M313.0,184.3 l-1.4,4.8" stroke="#62b7c4" stroke-width="1.35" stroke-linecap="round" opacity="0.9"/><path d="M322.4,177.9 l-1.4,4.8" stroke="#3d817e" stroke-width="1.35" stroke-linecap="round" opacity="0.9"/><path d="M218.0,166.6 l-1.4,4.8" stroke="#3d817e" stroke-width="1.35" stroke-linecap="round" opacity="0.9"/><path d="M251.2,170.7 l-1.4,4.8" stroke="#3d817e" stroke-width="1.35" stroke-linecap="round" opacity="0.9"/><path d="M334.2,152.4 l-1.4,4.8" stroke="#3d817e" stroke-width="1.35" stroke-linecap="round" opacity="0.9"/><path d="M334.0,209.2 l-1.4,4.8" stroke="#3d817e" stroke-width="1.35" stroke-linecap="round" opacity="0.9"/><path d="M335.0,142.8 l-1.4,4.8" stroke="#3d817e" stroke-width="1.35" stroke-linecap="round" opacity="0.9"/><path d="M380.8,175.0 l-1.4,4.8" stroke="#3d817e" stroke-width="1.35" stroke-linecap="round" opacity="0.9"/><path d="M309.7,188.0 l-1.4,4.8" stroke="#3d817e" stroke-width="1.35" stroke-linecap="round" opacity="0.9"/><path d="M324.6,197.9 l-1.4,4.8" stroke="#3d817e" stroke-width="1.35" stroke-linecap="round" opacity="0.9"/><path d="M329.2,171.3 l-1.4,4.8" stroke="#62b7c4" stroke-width="1.35" stroke-linecap="round" opacity="0.9"/><path d="M334.9,229.0 l-1.4,4.8" stroke="#62b7c4" stroke-width="1.35" stroke-linecap="round" opacity="0.9"/><path d="M309.5,121.0 l-1.4,4.8" stroke="#3d817e" stroke-width="1.35" stroke-linecap="round" opacity="0.9"/><path d="M229.8,195.0 l-1.4,4.8" stroke="#3d817e" stroke-width="1.35" stroke-linecap="round" opacity="0.9"/><path d="M368.7,193.9 l-1.4,4.8" stroke="#3d817e" stroke-width="1.35" stroke-linecap="round" opacity="0.9"/><path d="M300.0,172.4 l-1.4,4.8" stroke="#62b7c4" stroke-width="1.35" stroke-linecap="round" opacity="0.9"/><path d="M307.2,175.9 l-1.4,4.8" stroke="#3d817e" stroke-width="1.35" stroke-linecap="round" opacity="0.9"/><path d="M256.3,151.5 l-1.4,4.8" stroke="#3d817e" stroke-width="1.35" stroke-linecap="round" opacity="0.9"/><path d="M218.2,180.7 l-1.4,4.8" stroke="#3d817e" stroke-width="1.35" stroke-linecap="round" opacity="0.9"/><path d="M217.9,153.1 l-1.4,4.8" stroke="#3d817e" stroke-width="1.35" stroke-linecap="round" opacity="0.9"/><path d="M324.6,120.0 l-1.4,4.8" stroke="#62b7c4" stroke-width="1.35" stroke-linecap="round" opacity="0.9"/><path d="M236.6,144.9 l-1.4,4.8" stroke="#3d817e" stroke-width="1.35" stroke-linecap="round" opacity="0.9"/><path d="M382.3,145.5 l-1.4,4.8" stroke="#3d817e" stroke-width="1.35" stroke-linecap="round" opacity="0.9"/><path d="M390.9,144.1 l-1.4,4.8" stroke="#3d817e" stroke-width="1.35" stroke-linecap="round" opacity="0.9"/><path d="M226.4,197.3 l-1.4,4.8" stroke="#3d817e" stroke-width="1.35" stroke-linecap="round" opacity="0.9"/><path d="M351.0,211.4 l-1.4,4.8" stroke="#3d817e" stroke-width="1.35" stroke-linecap="round" opacity="0.9"/><path d="M400.4,168.3 l-1.4,4.8" stroke="#3d817e" stroke-width="1.35" stroke-linecap="round" opacity="0.9"/><path d="M333.5,226.9 l-1.4,4.8" stroke="#3d817e" stroke-width="1.35" stroke-linecap="round" opacity="0.9"/><path d="M241.9,177.3 l-1.4,4.8" stroke="#3d817e" stroke-width="1.35" stroke-linecap="round" opacity="0.9"/><path d="M281.4,149.8 l-1.4,4.8" stroke="#3d817e" stroke-width="1.35" stroke-linecap="round" opacity="0.9"/><path d="M276.6,174.0 l-1.4,4.8" stroke="#3d817e" stroke-width="1.35" stroke-linecap="round" opacity="0.9"/><path d="M372.3,180.3 l-1.4,4.8" stroke="#3d817e" stroke-width="1.35" stroke-linecap="round" opacity="0.9"/><path d="M307.4,173.4 l-1.4,4.8" stroke="#62b7c4" stroke-width="1.35" stroke-linecap="round" opacity="0.9"/><path d="M298.9,174.8 l-1.4,4.8" stroke="#3d817e" stroke-width="1.35" stroke-linecap="round" opacity="0.9"/><path d="M351.4,162.2 l-1.4,4.8" stroke="#3d817e" stroke-width="1.35" stroke-linecap="round" opacity="0.9"/><path d="M229.3,203.9 l-1.4,4.8" stroke="#3d817e" stroke-width="1.35" stroke-linecap="round" opacity="0.9"/><path d="M358.8,147.0 l-1.4,4.8" stroke="#3d817e" stroke-width="1.35" stroke-linecap="round" opacity="0.9"/><path d="M277.3,169.0 l-1.4,4.8" stroke="#3d817e" stroke-width="1.35" stroke-linecap="round" opacity="0.9"/><path d="M310.3,144.6 l-1.4,4.8" stroke="#62b7c4" stroke-width="1.35" stroke-linecap="round" opacity="0.9"/><path d="M280.9,156.2 l-1.4,4.8" stroke="#3d817e" stroke-width="1.35" stroke-linecap="round" opacity="0.9"/><path d="M296.4,170.9 l-1.4,4.8" stroke="#3d817e" stroke-width="1.35" stroke-linecap="round" opacity="0.9"/><path d="M257.4,174.6 l-1.4,4.8" stroke="#3d817e" stroke-width="1.35" stroke-linecap="round" opacity="0.9"/><path d="M271.1,123.1 l-1.4,4.8" stroke="#3d817e" stroke-width="1.35" stroke-linecap="round" opacity="0.9"/><path d="M279.7,140.9 l-1.4,4.8" stroke="#3d817e" stroke-width="1.35" stroke-linecap="round" opacity="0.9"/><path d="M356.0,200.8 l-1.4,4.8" stroke="#62b7c4" stroke-width="1.35" stroke-linecap="round" opacity="0.9"/><path d="M298.1,152.4 l-1.4,4.8" stroke="#62b7c4" stroke-width="1.35" stroke-linecap="round" opacity="0.9"/><path d="M246.3,201.8 l-1.4,4.8" stroke="#3d817e" stroke-width="1.35" stroke-linecap="round" opacity="0.9"/><path d="M244.1,176.9 l-1.4,4.8" stroke="#3d817e" stroke-width="1.35" stroke-linecap="round" opacity="0.9"/><path d="M363.8,140.5 l-1.4,4.8" stroke="#3d817e" stroke-width="1.35" stroke-linecap="round" opacity="0.9"/><path d="M242.7,156.7 l-1.4,4.8" stroke="#3d817e" stroke-width="1.35" stroke-linecap="round" opacity="0.9"/><path d="M349.6,189.7 l-1.4,4.8" stroke="#3d817e" stroke-width="1.35" stroke-linecap="round" opacity="0.9"/><path d="M322.6,178.4 l-1.4,4.8" stroke="#3d817e" stroke-width="1.35" stroke-linecap="round" opacity="0.9"/><path d="M228.3,203.4 l-1.4,4.8" stroke="#3d817e" stroke-width="1.35" stroke-linecap="round" opacity="0.9"/><path d="M230.1,144.9 l-1.4,4.8" stroke="#3d817e" stroke-width="1.35" stroke-linecap="round" opacity="0.9"/><path d="M258.3,203.7 l-1.4,4.8" stroke="#62b7c4" stroke-width="1.35" stroke-linecap="round" opacity="0.9"/><path d="M320.7,159.4 l-1.4,4.8" stroke="#3d817e" stroke-width="1.35" stroke-linecap="round" opacity="0.9"/><path d="M361.7,207.1 l-1.4,4.8" stroke="#3d817e" stroke-width="1.35" stroke-linecap="round" opacity="0.9"/><path d="M245.8,143.5 l-1.4,4.8" stroke="#3d817e" stroke-width="1.35" stroke-linecap="round" opacity="0.9"/><path d="M279.8,182.4 l-1.4,4.8" stroke="#3d817e" stroke-width="1.35" stroke-linecap="round" opacity="0.9"/><path d="M227.1,145.3 l-1.4,4.8" stroke="#3d817e" stroke-width="1.35" stroke-linecap="round" opacity="0.9"/><path d="M363.5,195.8 l-1.4,4.8" stroke="#3d817e" stroke-width="1.35" stroke-linecap="round" opacity="0.9"/><path d="M325.6,169.6 l-1.4,4.8" stroke="#3d817e" stroke-width="1.35" stroke-linecap="round" opacity="0.9"/><path d="M272.0,138.0 l-1.4,4.8" stroke="#62b7c4" stroke-width="1.35" stroke-linecap="round" opacity="0.9"/><path d="M259.5,184.1 l-1.4,4.8" stroke="#3d817e" stroke-width="1.35" stroke-linecap="round" opacity="0.9"/><path d="M365.9,140.7 l-1.4,4.8" stroke="#62b7c4" stroke-width="1.35" stroke-linecap="round" opacity="0.9"/><path d="M214.8,173.0 l-1.4,4.8" stroke="#3d817e" stroke-width="1.35" stroke-linecap="round" opacity="0.9"/><path d="M279.2,129.4 l-1.4,4.8" stroke="#3d817e" stroke-width="1.35" stroke-linecap="round" opacity="0.9"/><path d="M294.4,160.7 l-1.4,4.8" stroke="#62b7c4" stroke-width="1.35" stroke-linecap="round" opacity="0.9"/><path d="M341.3,156.7 l-1.4,4.8" stroke="#3d817e" stroke-width="1.35" stroke-linecap="round" opacity="0.9"/><path d="M267.9,145.0 l-1.4,4.8" stroke="#3d817e" stroke-width="1.35" stroke-linecap="round" opacity="0.9"/><path d="M255.0,158.3 l-1.4,4.8" stroke="#62b7c4" stroke-width="1.35" stroke-linecap="round" opacity="0.9"/><path d="M372.2,167.9 l-1.4,4.8" stroke="#3d817e" stroke-width="1.35" stroke-linecap="round" opacity="0.9"/><path d="M353.2,147.5 l-1.4,4.8" stroke="#3d817e" stroke-width="1.35" stroke-linecap="round" opacity="0.9"/><path d="M316.0,154.6 l-1.4,4.8" stroke="#3d817e" stroke-width="1.35" stroke-linecap="round" opacity="0.9"/><path d="M270.2,193.3 l-1.4,4.8" stroke="#3d817e" stroke-width="1.35" stroke-linecap="round" opacity="0.9"/><path d="M334.4,160.9 l-1.4,4.8" stroke="#3d817e" stroke-width="1.35" stroke-linecap="round" opacity="0.9"/><path d="M233.6,154.4 l-1.4,4.8" stroke="#3d817e" stroke-width="1.35" stroke-linecap="round" opacity="0.9"/><path d="M265.7,144.0 l-1.4,4.8" stroke="#3d817e" stroke-width="1.35" stroke-linecap="round" opacity="0.9"/><path d="M303.2,163.3 l-1.4,4.8" stroke="#3d817e" stroke-width="1.35" stroke-linecap="round" opacity="0.9"/><path d="M295.4,153.9 l-1.4,4.8" stroke="#3d817e" stroke-width="1.35" stroke-linecap="round" opacity="0.9"/><path d="M241.2,174.4 l-1.4,4.8" stroke="#3d817e" stroke-width="1.35" stroke-linecap="round" opacity="0.9"/><path d="M400.4,138.8 l-1.4,4.8" stroke="#3d817e" stroke-width="1.35" stroke-linecap="round" opacity="0.9"/><path d="M267.7,161.6 l-1.4,4.8" stroke="#3d817e" stroke-width="1.35" stroke-linecap="round" opacity="0.9"/><path d="M221.0,200.0 l-1.4,4.8" stroke="#62b7c4" stroke-width="1.35" stroke-linecap="round" opacity="0.9"/><path d="M316.2,184.8 l-1.4,4.8" stroke="#3d817e" stroke-width="1.35" stroke-linecap="round" opacity="0.9"/></g>

<path d="M318.5,128.8 A4.6,4.6 0 0 1 322.5,122.5 A8.3,8.3 0 0 1 335.6,119.8 A14.6,14.6 0 0 1 359.0,118.0 A20.6,20.6 0 0 1 395.6,115.3 A9.8,9.8 0 0 1 410.3,121.4 A6.4,6.4 0 0 1 418.1,128.1 A8.5,8.5 0 0 1 405.8,134.2 A41.0,41.0 0 0 1 374.3,134.7 A38.2,38.2 0 0 1 345.0,132.2 A24.3,24.3 0 0 1 324.8,131.7 A4.3,4.3 0 0 1 318.5,128.8 Z" fill="url(#cl3)" stroke="#2c3c3e" stroke-width="1.4" stroke-linejoin="round"/><path d="M364.5,122.5 q3.5,-5 9,-1.5" fill="none" stroke="#2c3c3e" stroke-width="1.1"/><path d="M211.9,134.4 A3.2,3.2 0 0 1 213.6,129.6 A5.2,5.2 0 0 1 220.1,124.4 A6.4,6.4 0 0 1 229.2,118.2 A11.8,11.8 0 0 1 247.7,122.7 A3.3,3.3 0 0 1 252.6,124.7 A5.7,5.7 0 0 1 259.7,130.5 A9.9,9.9 0 0 1 251.4,137.7 A20.5,20.5 0 0 1 234.4,139.2 A11.6,11.6 0 0 1 223.0,136.7 A7.0,7.0 0 0 1 211.9,134.4 Z" fill="#b7b7b6" stroke="#2c3c3e" stroke-width="1.4" stroke-linejoin="round"/><path d="M260.4,110.1 A3.1,3.1 0 0 1 263.6,106.2 A6.3,6.3 0 0 1 270.4,102.3 A140.4,140.4 0 0 1 317.2,102.3 A5.1,5.1 0 0 1 323.7,107.3 A2.6,2.6 0 0 1 325.7,111.0 A6.9,6.9 0 0 1 318.1,114.9 A17.2,17.2 0 0 1 301.0,117.2 A19.5,19.5 0 0 1 281.5,116.2 A14.9,14.9 0 0 1 266.9,113.6 A4.6,4.6 0 0 1 260.4,110.1 Z" fill="#b7b7b6" stroke="#2c3c3e" stroke-width="1.4" stroke-linejoin="round"/><path d="M462.1,135.0 A4.1,4.1 0 0 1 467.0,130.5 A4.7,4.7 0 0 1 474.5,129.0 A9.1,9.1 0 0 1 490.6,130.1 A5.8,5.8 0 0 1 498.8,134.6 A5.3,5.3 0 0 1 494.3,138.4 A25.3,25.3 0 0 1 477.5,138.7 A12.6,12.6 0 0 1 467.0,138.0 A3.5,3.5 0 0 1 462.1,135.0 Z" fill="#fff" stroke="#2c3c3e" stroke-width="1.2" stroke-linejoin="round"/><path d="M531.0,151.5 A3.1,3.1 0 0 1 534.5,148.0 A3.5,3.5 0 0 1 540.0,147.0 A6.7,6.7 0 0 1 552.0,148.0 A4.3,4.3 0 0 1 558.0,151.5 A3.8,3.8 0 0 1 555.0,154.5 A15.0,15.0 0 0 1 545.0,155.0 A12.0,12.0 0 0 1 535.0,154.3 A3.0,3.0 0 0 1 531.0,151.5 Z" fill="#fff" stroke="#2c3c3e" stroke-width="1.2" stroke-linejoin="round"/>
<path d="M208.0,351.6 C213.7,350.9 212.7,352.0 225.0,349.5 C237.3,347.0 232.7,348.3 245.0,344.0 C257.3,339.7 252.0,341.5 262.0,336.5 C272.0,331.5 266.3,334.7 275.0,329.0 C283.7,323.3 278.0,328.7 288.0,319.5 C298.0,310.3 295.3,310.2 305.0,301.5 C314.7,292.8 308.3,297.3 317.0,293.5 C325.7,289.7 321.5,290.3 331.0,290.0 C340.5,289.7 336.8,289.7 345.5,292.5 C354.2,295.3 346.8,293.8 357.0,298.5 C367.2,303.2 361.7,300.7 376.0,306.5 C390.3,312.3 385.3,310.7 400.0,316.0 C414.7,321.3 406.7,317.8 420.0,322.5 C433.3,327.2 424.0,322.7 440.0,330.0 C456.0,337.3 449.7,336.1 468.0,344.5 C486.3,352.9 477.7,350.4 495.0,355.2 C512.3,360.0 501.7,356.8 520.0,358.8 C538.3,360.8 521.7,359.0 550.0,361.2 C578.3,363.4 568.3,362.3 605.0,365.4 C641.7,368.5 621.7,368.0 660.0,370.4 C698.3,372.8 682.0,371.5 720.0,372.6 C758.0,373.7 756.0,373.3 774.0,373.6  L772,445 L210,445 Z" fill="#ccae8d"/><path d="M262,337 L275,329 L288,319.5 L305,301.5 L317,293.5 L331,290 L345.5,292.5 L357,298.5 L376,306.5 L400,316 L420,322.5 L440,330 Q452,337 456,343 Q420,353 380,351 Q300,347 262,337 Z" fill="#f2dcc2"/><path d="M210,362.5 Q240,361 270,364 Q310,369 350,368 Q380,369 400,371 Q418,369 430,368.8 Q440,370 447.8,376.6 Q462,387 474,392.4 Q484,397 491.5,401 L539,400 L574,398 L613.7,402 L675,403 L736,402 L772,403 L772,445 L210,445 Z" fill="#84888b"/><path d="M400,430 Q412,428 424,424 Q436,420 448,423 L480,424 L694,421 Q705,419.5 715,418 Q727,415.5 737,415 Q748,415 755,416.3 L772,416.8 L772,445 L400,445 Z" fill="#a5a09b" stroke="#3a3a3a" stroke-width="1.3"/><path d="M491.5,402.5 Q515,397.5 539,395.5 Q558,393 574,393.2 Q595,393.5 613.7,397.5 Q640,400.5 675,399 Q705,397 733,397.5 L746,400.2 L772,400.6 L772,407.5 L736,406.5 Q690,409 613.7,407.5 Q570,406 539,405.5 Q510,405.5 491.5,402.5 Z" fill="#4bbae8" stroke="#1c4b5c" stroke-width="1.5" stroke-linejoin="round"/><clipPath id="aqc"><path d="M491.5,402.5 Q515,397.5 539,395.5 Q558,393 574,393.2 Q595,393.5 613.7,397.5 Q640,400.5 675,399 Q705,397 733,397.5 L746,400.2 L772,400.6 L772,407.5 L736,406.5 Q690,409 613.7,407.5 Q570,406 539,405.5 Q510,405.5 491.5,402.5 Z"/></clipPath><g clip-path="url(#aqc)"><circle cx="642.4" cy="402.8" r="1" fill="#2c82b3"/><circle cx="752.6" cy="403.3" r="1" fill="#2c82b3"/><circle cx="675.3" cy="403.8" r="1" fill="#2c82b3"/><circle cx="625.3" cy="401.3" r="1" fill="#2c82b3"/><circle cx="515.4" cy="404.0" r="1" fill="#2c82b3"/><circle cx="566.2" cy="405.6" r="1" fill="#2c82b3"/><circle cx="674.8" cy="398.5" r="1" fill="#2c82b3"/><circle cx="538.7" cy="397.9" r="1" fill="#2c82b3"/><circle cx="672.3" cy="403.0" r="1" fill="#2c82b3"/><circle cx="534.5" cy="395.8" r="1" fill="#2c82b3"/><circle cx="642.9" cy="401.7" r="1" fill="#2c82b3"/><circle cx="607.1" cy="397.6" r="1" fill="#2c82b3"/><circle cx="663.1" cy="395.1" r="1" fill="#2c82b3"/><circle cx="584.3" cy="400.3" r="1" fill="#2c82b3"/><circle cx="757.2" cy="402.4" r="1" fill="#2c82b3"/><circle cx="737.4" cy="400.5" r="1" fill="#2c82b3"/><circle cx="566.7" cy="397.8" r="1" fill="#2c82b3"/><circle cx="757.6" cy="403.1" r="1" fill="#2c82b3"/><circle cx="585.8" cy="395.3" r="1" fill="#2c82b3"/><circle cx="636.1" cy="402.8" r="1" fill="#2c82b3"/><circle cx="615.5" cy="398.0" r="1" fill="#2c82b3"/><circle cx="680.5" cy="405.6" r="1" fill="#2c82b3"/><circle cx="564.6" cy="395.4" r="1" fill="#2c82b3"/><circle cx="593.9" cy="399.8" r="1" fill="#2c82b3"/><circle cx="684.5" cy="397.3" r="1" fill="#2c82b3"/><circle cx="714.6" cy="403.5" r="1" fill="#2c82b3"/><circle cx="637.8" cy="397.4" r="1" fill="#2c82b3"/><circle cx="760.1" cy="398.6" r="1" fill="#2c82b3"/><circle cx="720.7" cy="397.7" r="1" fill="#2c82b3"/><circle cx="563.2" cy="403.7" r="1" fill="#2c82b3"/><circle cx="582.6" cy="405.9" r="1" fill="#2c82b3"/><circle cx="635.4" cy="397.2" r="1" fill="#2c82b3"/><circle cx="563.7" cy="399.8" r="1" fill="#2c82b3"/><circle cx="680.0" cy="405.9" r="1" fill="#2c82b3"/><circle cx="543.5" cy="399.5" r="1" fill="#2c82b3"/><circle cx="561.0" cy="406.2" r="1" fill="#2c82b3"/><circle cx="542.3" cy="395.6" r="1" fill="#2c82b3"/><circle cx="520.8" cy="399.5" r="1" fill="#2c82b3"/><circle cx="741.2" cy="405.2" r="1" fill="#2c82b3"/><circle cx="697.7" cy="406.5" r="1" fill="#2c82b3"/><circle cx="750.0" cy="398.8" r="1" fill="#2c82b3"/><circle cx="553.8" cy="405.8" r="1" fill="#2c82b3"/><circle cx="701.3" cy="395.4" r="1" fill="#2c82b3"/><circle cx="679.7" cy="399.4" r="1" fill="#2c82b3"/><circle cx="603.3" cy="398.8" r="1" fill="#2c82b3"/><circle cx="549.5" cy="395.0" r="1" fill="#2c82b3"/><circle cx="578.6" cy="399.0" r="1" fill="#2c82b3"/><circle cx="756.3" cy="396.4" r="1" fill="#2c82b3"/><circle cx="758.6" cy="397.4" r="1" fill="#2c82b3"/><circle cx="598.8" cy="404.4" r="1" fill="#2c82b3"/><circle cx="721.2" cy="400.0" r="1" fill="#2c82b3"/><circle cx="518.0" cy="400.4" r="1" fill="#2c82b3"/><circle cx="603.0" cy="405.6" r="1" fill="#2c82b3"/><circle cx="555.8" cy="399.2" r="1" fill="#2c82b3"/><circle cx="740.9" cy="395.3" r="1" fill="#2c82b3"/><circle cx="613.0" cy="404.3" r="1" fill="#2c82b3"/><circle cx="706.6" cy="395.5" r="1" fill="#2c82b3"/><circle cx="514.2" cy="395.7" r="1" fill="#2c82b3"/><circle cx="747.0" cy="398.0" r="1" fill="#2c82b3"/><circle cx="701.5" cy="405.3" r="1" fill="#2c82b3"/><circle cx="594.2" cy="398.1" r="1" fill="#2c82b3"/><circle cx="756.9" cy="402.1" r="1" fill="#2c82b3"/><circle cx="574.0" cy="403.2" r="1" fill="#2c82b3"/><circle cx="588.2" cy="398.2" r="1" fill="#2c82b3"/><circle cx="506.0" cy="403.7" r="1" fill="#2c82b3"/><circle cx="746.0" cy="402.3" r="1" fill="#2c82b3"/><circle cx="753.1" cy="395.3" r="1" fill="#2c82b3"/><circle cx="566.5" cy="400.5" r="1" fill="#2c82b3"/><circle cx="756.6" cy="406.0" r="1" fill="#2c82b3"/><circle cx="606.7" cy="397.9" r="1" fill="#2c82b3"/><circle cx="618.1" cy="400.7" r="1" fill="#2c82b3"/><circle cx="749.1" cy="397.1" r="1" fill="#2c82b3"/><circle cx="716.1" cy="403.5" r="1" fill="#2c82b3"/><circle cx="721.4" cy="403.9" r="1" fill="#2c82b3"/><circle cx="664.7" cy="398.8" r="1" fill="#2c82b3"/><circle cx="589.0" cy="399.2" r="1" fill="#2c82b3"/><circle cx="710.7" cy="395.9" r="1" fill="#2c82b3"/><circle cx="556.9" cy="403.7" r="1" fill="#2c82b3"/><circle cx="570.0" cy="395.7" r="1" fill="#2c82b3"/><circle cx="513.9" cy="401.4" r="1" fill="#2c82b3"/><circle cx="590.7" cy="406.3" r="1" fill="#2c82b3"/><circle cx="737.4" cy="406.4" r="1" fill="#2c82b3"/><circle cx="574.7" cy="396.0" r="1" fill="#2c82b3"/><circle cx="530.4" cy="400.7" r="1" fill="#2c82b3"/><circle cx="691.7" cy="400.1" r="1" fill="#2c82b3"/><circle cx="566.6" cy="399.8" r="1" fill="#2c82b3"/><circle cx="668.1" cy="402.8" r="1" fill="#2c82b3"/><circle cx="701.7" cy="404.7" r="1" fill="#2c82b3"/><circle cx="679.7" cy="396.4" r="1" fill="#2c82b3"/><circle cx="726.1" cy="398.4" r="1" fill="#2c82b3"/><circle cx="654.1" cy="399.3" r="1" fill="#2c82b3"/><circle cx="699.1" cy="397.3" r="1" fill="#2c82b3"/><circle cx="570.1" cy="397.8" r="1" fill="#2c82b3"/><circle cx="545.3" cy="405.2" r="1" fill="#2c82b3"/><circle cx="657.1" cy="398.8" r="1" fill="#2c82b3"/><circle cx="609.2" cy="406.4" r="1" fill="#2c82b3"/><circle cx="638.4" cy="397.7" r="1" fill="#2c82b3"/><circle cx="717.6" cy="402.5" r="1" fill="#2c82b3"/><circle cx="765.6" cy="396.2" r="1" fill="#2c82b3"/><circle cx="629.9" cy="404.4" r="1" fill="#2c82b3"/><circle cx="726.1" cy="405.5" r="1" fill="#2c82b3"/><circle cx="515.6" cy="398.4" r="1" fill="#2c82b3"/><circle cx="536.4" cy="397.2" r="1" fill="#2c82b3"/><circle cx="760.9" cy="401.7" r="1" fill="#2c82b3"/><circle cx="749.6" cy="399.3" r="1" fill="#2c82b3"/><circle cx="732.8" cy="400.2" r="1" fill="#2c82b3"/><circle cx="573.4" cy="403.9" r="1" fill="#2c82b3"/><circle cx="753.7" cy="396.2" r="1" fill="#2c82b3"/><circle cx="661.8" cy="402.1" r="1" fill="#2c82b3"/><circle cx="562.2" cy="399.2" r="1" fill="#2c82b3"/><circle cx="542.2" cy="397.3" r="1" fill="#2c82b3"/><circle cx="572.0" cy="401.9" r="1" fill="#2c82b3"/><circle cx="676.4" cy="397.3" r="1" fill="#2c82b3"/><circle cx="508.0" cy="398.8" r="1" fill="#2c82b3"/><circle cx="683.4" cy="397.1" r="1" fill="#2c82b3"/><circle cx="587.1" cy="397.3" r="1" fill="#2c82b3"/><circle cx="714.2" cy="401.3" r="1" fill="#2c82b3"/><circle cx="521.6" cy="396.2" r="1" fill="#2c82b3"/><circle cx="609.0" cy="401.3" r="1" fill="#2c82b3"/><circle cx="673.1" cy="396.0" r="1" fill="#2c82b3"/></g><ellipse cx="518.8" cy="382.7" rx="2.2" ry="1.5" fill="#8e8580" transform="rotate(-12 518.8 382.7)"/><ellipse cx="754.1" cy="383.2" rx="2.6" ry="1.8" fill="#8e8580" transform="rotate(-5 754.1 383.2)"/><ellipse cx="727.5" cy="392.0" rx="2.1" ry="1.4" fill="#8e8580" transform="rotate(14 727.5 392.0)"/><ellipse cx="530.7" cy="368.2" rx="3.4" ry="2.5" fill="#8e8580" transform="rotate(19 530.7 368.2)"/><ellipse cx="591.1" cy="389.5" rx="2.4" ry="1.5" fill="#8e8580" transform="rotate(-29 591.1 389.5)"/><ellipse cx="634.4" cy="385.3" rx="3.4" ry="2.1" fill="#8e8580" transform="rotate(7 634.4 385.3)"/><ellipse cx="580.5" cy="381.4" rx="1.6" ry="1.1" fill="#8e8580" transform="rotate(1 580.5 381.4)"/><ellipse cx="745.8" cy="380.2" rx="2.4" ry="2.0" fill="#8e8580" transform="rotate(28 745.8 380.2)"/><ellipse cx="528.8" cy="371.0" rx="3.5" ry="3.1" fill="#8e8580" transform="rotate(-1 528.8 371.0)"/><ellipse cx="485.9" cy="372.4" rx="2.2" ry="1.9" fill="#8e8580" transform="rotate(7 485.9 372.4)"/><ellipse cx="715.7" cy="379.6" rx="3.1" ry="2.1" fill="#8e8580" transform="rotate(-6 715.7 379.6)"/><ellipse cx="722.2" cy="389.5" rx="1.7" ry="1.1" fill="#8e8580" transform="rotate(-6 722.2 389.5)"/><ellipse cx="624.3" cy="380.1" rx="1.6" ry="1.1" fill="#8e8580" transform="rotate(13 624.3 380.1)"/><ellipse cx="737.4" cy="378.9" rx="2.6" ry="2.1" fill="#8e8580" transform="rotate(-28 737.4 378.9)"/><ellipse cx="719.8" cy="379.2" rx="2.7" ry="2.0" fill="#8e8580" transform="rotate(8 719.8 379.2)"/><ellipse cx="561.3" cy="379.0" rx="2.6" ry="1.9" fill="#8e8580" transform="rotate(10 561.3 379.0)"/><ellipse cx="603.1" cy="380.6" rx="1.4" ry="1.1" fill="#8e8580" transform="rotate(-1 603.1 380.6)"/><ellipse cx="540.1" cy="386.4" rx="3.1" ry="2.3" fill="#8e8580" transform="rotate(-19 540.1 386.4)"/><ellipse cx="611.0" cy="374.2" rx="1.6" ry="1.2" fill="#8e8580" transform="rotate(-24 611.0 374.2)"/><ellipse cx="601.7" cy="382.0" rx="1.4" ry="1.1" fill="#8e8580" transform="rotate(-25 601.7 382.0)"/><ellipse cx="688.6" cy="388.4" rx="2.5" ry="1.5" fill="#8e8580" transform="rotate(0 688.6 388.4)"/><ellipse cx="582.6" cy="391.0" rx="1.6" ry="1.4" fill="#8e8580" transform="rotate(30 582.6 391.0)"/><ellipse cx="688.2" cy="389.0" rx="1.7" ry="1.6" fill="#8e8580" transform="rotate(-0 688.2 389.0)"/><ellipse cx="755.1" cy="390.9" rx="1.7" ry="1.4" fill="#8e8580" transform="rotate(26 755.1 390.9)"/><ellipse cx="489.5" cy="369.1" rx="3.0" ry="2.0" fill="#8e8580" transform="rotate(24 489.5 369.1)"/><ellipse cx="551.9" cy="387.8" rx="1.6" ry="1.2" fill="#8e8580" transform="rotate(25 551.9 387.8)"/><ellipse cx="532.1" cy="374.4" rx="2.5" ry="1.7" fill="#8e8580" transform="rotate(-28 532.1 374.4)"/><ellipse cx="524.3" cy="371.6" rx="3.5" ry="2.8" fill="#8e8580" transform="rotate(24 524.3 371.6)"/><ellipse cx="520.3" cy="386.7" rx="1.6" ry="1.2" fill="#8e8580" transform="rotate(8 520.3 386.7)"/><ellipse cx="577.2" cy="389.3" rx="2.6" ry="2.0" fill="#8e8580" transform="rotate(23 577.2 389.3)"/><ellipse cx="501.2" cy="380.5" rx="2.7" ry="2.0" fill="#8e8580" transform="rotate(18 501.2 380.5)"/><ellipse cx="548.9" cy="391.8" rx="2.6" ry="1.9" fill="#8e8580" transform="rotate(16 548.9 391.8)"/><ellipse cx="601.8" cy="375.2" rx="3.0" ry="1.8" fill="#8e8580" transform="rotate(19 601.8 375.2)"/><ellipse cx="545.6" cy="383.6" rx="3.6" ry="2.8" fill="#8e8580" transform="rotate(10 545.6 383.6)"/><ellipse cx="563.2" cy="369.7" rx="1.4" ry="0.9" fill="#8e8580" transform="rotate(7 563.2 369.7)"/><ellipse cx="598.8" cy="382.0" rx="3.4" ry="2.1" fill="#8e8580" transform="rotate(-16 598.8 382.0)"/><ellipse cx="664.6" cy="375.1" rx="1.3" ry="0.9" fill="#8e8580" transform="rotate(-24 664.6 375.1)"/><ellipse cx="576.4" cy="375.2" rx="2.6" ry="2.1" fill="#8e8580" transform="rotate(-18 576.4 375.2)"/><ellipse cx="655.9" cy="382.7" rx="1.6" ry="1.4" fill="#8e8580" transform="rotate(-15 655.9 382.7)"/><ellipse cx="514.5" cy="369.1" rx="2.8" ry="2.4" fill="#8e8580" transform="rotate(17 514.5 369.1)"/><ellipse cx="589.8" cy="376.5" rx="1.3" ry="1.1" fill="#8e8580" transform="rotate(4 589.8 376.5)"/><ellipse cx="574.4" cy="384.3" rx="2.3" ry="2.0" fill="#8e8580" transform="rotate(14 574.4 384.3)"/><ellipse cx="544.1" cy="389.8" rx="1.4" ry="1.1" fill="#8e8580" transform="rotate(-6 544.1 389.8)"/><ellipse cx="540.8" cy="369.9" rx="3.1" ry="1.9" fill="#8e8580" transform="rotate(3 540.8 369.9)"/><ellipse cx="750.4" cy="380.9" rx="1.8" ry="1.4" fill="#8e8580" transform="rotate(0 750.4 380.9)"/><ellipse cx="661.2" cy="388.7" rx="1.7" ry="1.2" fill="#8e8580" transform="rotate(-12 661.2 388.7)"/><path d="M299.1,333.4 C300.6,331.5 302.0,329.8 305.5,328.0 C309.0,326.3 310.0,326.7 314.0,325.9 C318.0,325.1 318.8,324.4 322.5,324.6 C326.2,324.9 327.2,326.0 329.9,327.2 C332.7,328.4 332.0,330.3 334.2,329.7 C336.4,329.2 335.8,326.6 339.5,324.6 C343.2,322.7 344.2,322.3 350.1,321.2 C356.1,320.2 356.6,320.0 365.0,320.2 C373.4,320.4 377.3,320.7 386.2,322.1 C395.2,323.5 396.3,324.1 403.2,326.3 C410.2,328.6 410.8,329.5 416.0,331.9 C421.2,334.3 437.5,335.3 425.6,336.5 C413.7,337.8 394.5,337.5 365.0,337.4 C335.5,337.3 314.5,337.1 299.1,336.1 C283.8,335.2 297.6,335.2 299.1,333.4 Z" fill="#8d8581" stroke="#4a403c" stroke-width="1.3" stroke-linejoin="round"/><path d="M311,331 l2,-3.5 l2,3 l2.5,-4 l2,3.5 l2.5,-3 l2,2.5 M348,323 l1.5,5 l2,-4 l2,6 l2.5,-6 l2,4 l2,-4 l3,5 l2,-5 l3,3.5 M330,329 Q335,331 341,326" fill="none" stroke="#4a403c" stroke-width="1.1" stroke-linejoin="round" stroke-linecap="round"/><path d="M305.5,318.3 C306.5,317.1 311.7,316.4 316.1,315.5 C320.6,314.7 321.5,314.4 324.6,314.7 C327.7,314.9 325.7,316.7 329.3,316.6 C332.9,316.4 336.6,313.5 339.9,314.0 C343.3,314.5 342.0,317.0 343.7,318.7 C345.5,320.4 349.5,321.1 347.6,321.5 C345.7,321.9 341.5,320.8 335.7,320.4 C329.8,320.0 328.1,319.8 322.5,319.8 C316.9,319.8 315.8,320.7 311.9,320.4 C307.9,320.1 304.5,319.4 305.5,318.3 Z" fill="#8d8581" stroke="#4a403c" stroke-width="1.2" stroke-linejoin="round"/><path d="M271.5,336.5 C273.2,335.7 283.0,336.4 288.5,336.1 C294.0,335.9 288.1,334.8 299.1,335.3 C310.2,335.7 326.3,337.7 343.7,338.2 C361.2,338.8 369.2,338.5 386.2,338.2 C403.2,338.0 418.3,336.9 428.7,337.2 C439.2,337.4 438.3,338.4 438.3,339.5 C438.3,340.6 434.9,341.4 428.7,342.7 C422.6,344.0 416.0,344.0 407.5,345.9 C399.0,347.8 394.7,351.0 386.2,352.3 C377.7,353.5 373.5,353.1 365.0,352.3 C356.5,351.4 352.2,349.7 343.7,348.0 C335.2,346.3 331.0,344.6 322.5,343.8 C314.0,342.9 309.7,344.5 301.2,343.8 C292.7,343.1 285.9,341.8 280.0,340.4 C274.1,338.9 269.8,337.4 271.5,336.5 Z" fill="#2da7de" stroke="#1d5f8f" stroke-width="1.3" stroke-linejoin="round"/><path d="M341.6,343.6 C345.1,343.1 353.6,345.7 365.0,345.7 C376.4,345.7 380.6,344.1 390.5,343.6 C400.4,343.1 407.5,342.0 407.5,343.6 C407.5,345.1 399.4,348.4 390.5,350.1 C381.6,351.9 378.7,351.5 369.2,351.0 C359.8,350.5 356.6,349.5 350.1,347.8 C343.7,346.1 338.2,344.1 341.6,343.6 Z" fill="#1f8fd0"/><path d="M292.7,336.5 C299.7,337.4 305.6,339.2 322.5,340.4 C339.4,341.6 345.2,341.6 365.0,341.6 C384.8,341.6 390.9,341.0 407.5,340.4 C424.1,339.8 429.5,339.4 436.2,339.1 " fill="none" stroke="#1d5f8f" stroke-width="1.1"/><path d="M208.4,355.1 L209.6,354.9 L211.3,354.8 L213.3,354.6 L215.6,354.4 L218.1,354.1 L220.6,353.8 L223.2,353.4 L225.7,352.9 L228.1,352.4 L230.7,351.8 L233.3,351.2 L235.9,350.5 L238.6,349.7 L241.2,349.0 L243.7,348.1 L246.2,347.3 L248.5,346.4 L250.9,345.5 L253.1,344.5 L255.3,343.5 L257.5,342.5 L259.6,341.4 L261.5,340.4 L263.5,339.4 L265.3,338.4 L267.0,337.4 L268.7,336.5 L270.3,335.5 L271.8,334.5 L273.4,333.4 L274.9,332.4 L276.5,331.3 L278.1,330.2 L279.6,329.2 L281.2,328.2 L282.7,327.0 L284.4,325.8 L286.1,324.5 L287.8,323.0 L289.7,321.3 L291.7,319.3 L293.9,317.0 L296.1,314.6 L298.3,312.0 L300.6,309.5 L302.7,307.1 L304.7,305.0 L306.6,303.2 L308.2,301.7 L309.7,300.5 L311.1,299.4 L312.4,298.5 L313.7,297.6 L315.0,296.9 L316.4,296.2 L317.9,295.5 L319.5,294.8 L321.1,294.2 L322.7,293.7 L324.4,293.2 L326.1,292.8 L327.8,292.5 L329.4,292.3 L331.1,292.2 L332.7,292.2 L334.5,292.3 L336.2,292.5 L338.0,292.9 L339.8,293.2 L341.5,293.7 L343.2,294.2 L344.8,294.7 L346.1,295.2 L347.4,295.8 L348.5,296.5 L349.7,297.2 L351.0,298.0 L352.5,298.9 L354.1,299.8 L355.9,300.8 L358.0,301.7 L360.1,302.7 L362.3,303.7 L364.7,304.7 L367.2,305.7 L369.7,306.8 L372.3,307.9 L375.0,309.0 L377.7,310.2 L380.7,311.5 L383.7,312.8 L386.9,314.1 L390.0,315.4 L393.1,316.6 L396.1,317.8 L398.9,318.9 L401.7,319.9 L404.3,320.8 L406.8,321.7 L409.3,322.5 L411.7,323.3 L414.1,324.0 L416.5,324.9 L418.9,325.7 L421.3,326.6 L423.7,327.4 L426.0,328.3 L428.3,329.1 L430.6,330.0 L433.1,331.0 L435.7,332.1 L438.4,333.4 L441.5,334.8 L444.7,336.6 L448.2,338.4 L451.7,340.4 L455.4,342.4 L459.1,344.4 L462.8,346.3 L466.3,348.0 L469.8,349.6 L473.3,351.2 L476.7,352.7 L480.2,354.2 L483.6,355.6 L487.1,356.9 L490.5,358.0 L493.9,359.1 L497.3,359.9 L500.5,360.6 L503.7,361.1 L506.8,361.5 L509.9,361.8 L513.1,362.1 L516.3,362.4 L519.6,362.8 L523.0,363.1 L526.2,363.4 L529.5,363.7 L532.8,364.0 L536.4,364.2 L540.3,364.5 L544.7,364.8 L549.7,365.2 L555.4,365.6 L561.7,366.1 L568.5,366.6 L575.6,367.1 L583.0,367.7 L590.4,368.3 L597.6,368.8 L604.7,369.4 L611.5,370.0 L618.2,370.6 L625.0,371.3 L631.8,371.9 L638.6,372.6 L645.6,373.2 L652.6,373.7 L659.8,374.2 L667.1,374.6 L674.6,374.9 L682.3,375.1 L689.9,375.3 L697.6,375.5 L705.2,375.6 L712.7,375.8 L719.9,375.9 L727.3,376.0 L735.1,376.2 L743.0,376.3 L750.7,376.4 L757.9,376.5 L764.4,376.6 L769.8,376.6 L773.9,376.7 L774.1,370.5 L769.9,370.4 L764.5,370.3 L758.0,370.2 L750.8,370.1 L743.1,369.9 L735.3,369.7 L727.5,369.5 L720.1,369.3 L712.8,369.1 L705.4,368.8 L697.8,368.5 L690.2,368.2 L682.5,367.9 L675.0,367.5 L667.5,367.1 L660.2,366.6 L653.2,366.1 L646.2,365.5 L639.4,364.8 L632.6,364.1 L625.8,363.4 L619.0,362.7 L612.2,362.0 L605.3,361.4 L598.3,360.8 L591.0,360.2 L583.6,359.7 L576.2,359.1 L569.1,358.6 L562.3,358.1 L556.0,357.6 L550.3,357.2 L545.3,356.8 L540.9,356.5 L537.0,356.2 L533.4,356.0 L530.1,355.7 L526.9,355.5 L523.7,355.2 L520.4,354.8 L517.0,354.5 L513.8,354.2 L510.8,353.9 L507.8,353.5 L504.9,353.2 L502.0,352.7 L499.1,352.1 L496.1,351.3 L492.9,350.4 L489.7,349.4 L486.5,348.2 L483.2,346.9 L479.8,345.5 L476.5,344.0 L473.1,342.5 L469.7,341.0 L466.2,339.3 L462.7,337.6 L459.0,335.7 L455.4,333.7 L451.8,331.8 L448.2,329.9 L444.8,328.2 L441.6,326.6 L438.6,325.4 L435.8,324.2 L433.2,323.3 L430.7,322.4 L428.3,321.6 L425.9,320.8 L423.6,320.1 L421.1,319.3 L418.6,318.5 L416.1,317.7 L413.6,317.0 L411.2,316.3 L408.8,315.5 L406.3,314.8 L403.7,314.0 L401.1,313.1 L398.2,312.1 L395.3,311.0 L392.2,309.8 L389.0,308.6 L385.9,307.4 L382.8,306.2 L379.8,305.1 L377.0,304.0 L374.4,302.9 L371.7,301.9 L369.2,300.9 L366.7,299.9 L364.4,298.9 L362.1,298.0 L360.0,297.1 L358.1,296.2 L356.4,295.4 L354.9,294.7 L353.5,293.9 L352.2,293.1 L350.9,292.3 L349.5,291.6 L347.9,290.9 L346.2,290.3 L344.5,289.8 L342.6,289.3 L340.8,288.8 L338.8,288.5 L336.8,288.1 L334.9,287.9 L332.9,287.8 L330.9,287.8 L329.0,287.9 L327.1,288.2 L325.2,288.5 L323.3,289.0 L321.4,289.5 L319.6,290.1 L317.8,290.8 L316.1,291.5 L314.5,292.2 L312.9,293.0 L311.4,293.8 L310.0,294.7 L308.5,295.7 L306.9,296.9 L305.2,298.3 L303.4,299.8 L301.4,301.7 L299.3,303.9 L297.1,306.3 L294.8,308.8 L292.5,311.3 L290.3,313.7 L288.2,315.9 L286.3,317.7 L284.5,319.2 L282.9,320.5 L281.3,321.7 L279.8,322.8 L278.2,323.8 L276.7,324.7 L275.1,325.7 L273.5,326.7 L271.9,327.7 L270.3,328.6 L268.8,329.4 L267.2,330.3 L265.7,331.1 L264.0,331.9 L262.3,332.7 L260.5,333.6 L258.6,334.5 L256.7,335.4 L254.6,336.3 L252.5,337.3 L250.4,338.2 L248.2,339.1 L246.1,339.9 L243.8,340.7 L241.5,341.5 L239.1,342.2 L236.6,343.0 L234.1,343.7 L231.5,344.4 L229.0,345.0 L226.6,345.6 L224.3,346.1 L222.0,346.5 L219.7,346.8 L217.2,347.2 L214.9,347.4 L212.7,347.6 L210.7,347.8 L208.9,348.0 L207.6,348.1 Z" fill="#6a5145" stroke="#2e2722" stroke-width="1.2" stroke-linejoin="round"/><path d="M208.1,349.5 L209.4,349.4 L211.1,349.2 L213.1,349.0 L215.3,348.8 L217.8,348.5 L220.3,348.2 L222.7,347.8 L225.2,347.4 L227.6,346.9 L230.0,346.3 L232.6,345.6 L235.2,344.9 L237.8,344.2 L240.4,343.4 L242.9,342.7 L245.3,341.9 L247.6,341.0 L249.9,340.1 L252.1,339.2 L254.3,338.3 L256.4,337.4 L258.4,336.4 L260.4,335.5 L262.3,334.6 L264.2,333.7 L265.9,332.9 L267.5,332.0 L269.1,331.2 L270.7,330.3 L272.2,329.4 L273.8,328.5 L275.4,327.5 L277.0,326.5 L278.6,325.6 L280.1,324.6 L281.7,323.6 L283.3,322.4 L285.0,321.2 L286.7,319.8 L288.5,318.2 L290.5,316.3 L292.7,314.1 L294.9,311.7 L297.2,309.2 L299.4,306.7 L301.6,304.3 L303.6,302.2 L305.5,300.4 L307.2,298.9 L308.8,297.7 L310.2,296.6 L311.6,295.6 L313.0,294.8 L314.3,294.0 L315.8,293.3 L317.3,292.6 L318.9,292.0 L320.6,291.3 L322.3,290.8 L324.0,290.3 L325.8,289.9 L327.5,289.5 L329.3,289.3 L331.0,289.2 L332.8,289.2 L334.6,289.3 L336.4,289.5 L338.3,289.8 L340.1,290.2 L341.9,290.6 L343.6,291.1 L345.3,291.6 L346.7,292.1 L348.1,292.7 L349.3,293.3 L350.6,294.1 L351.9,294.8 L353.3,295.6 L354.9,296.5 L356.7,297.3 L358.7,298.2 L360.8,299.1 L363.1,300.0 L365.4,301.0 L367.9,302.0 L370.4,303.0 L373.0,304.0 L375.7,305.1 L378.5,306.2 L381.5,307.4 L384.5,308.6 L387.6,309.8 L390.8,311.0 L393.9,312.1 L396.9,313.2 L399.7,314.3 L402.4,315.2 L405.0,316.0 L407.6,316.8 L410.0,317.5 L412.4,318.2 L414.9,318.9 L417.3,319.7 L419.8,320.5 L422.2,321.3 L424.6,322.0 L426.9,322.8 L429.2,323.6 L431.6,324.4 L434.1,325.3 L436.8,326.4 L439.7,327.6 L442.8,329.1 L446.1,330.8 L449.6,332.6 L453.2,334.5 L456.8,336.5 L460.5,338.4 L464.1,340.3 L467.7,341.9 L471.1,343.5 L474.5,345.0 L478.0,346.5 L481.4,347.9 L484.8,349.2 L488.1,350.5 L491.5,351.6 L494.8,352.6 L498.0,353.4 L501.1,354.0 L504.2,354.5 L507.2,354.9 L510.3,355.2 L513.4,355.5 L516.6,355.9 L519.9,356.2 L523.3,356.5 L526.5,356.8 L529.7,357.1 L533.1,357.4 L536.6,357.6 L540.6,357.9 L545.0,358.2 L549.9,358.6 L555.6,359.0 L561.9,359.5 L568.7,360.0 L575.9,360.5 L583.2,361.1 L590.6,361.6 L597.9,362.2 L604.9,362.8 L611.8,363.4 L618.6,364.1 L625.3,364.8 L632.1,365.5 L638.9,366.2 L645.8,366.8 L652.8,367.5 L659.9,368.0 L667.3,368.5 L674.7,368.9 L682.4,369.3 L690.0,369.6 L697.7,369.9 L705.3,370.2 L712.7,370.5 L720.0,370.7 L727.4,370.9 L735.2,371.1 L743.0,371.3 L750.7,371.5 L758.0,371.6 L764.4,371.7 L769.9,371.8 L774.0,371.9 L774.0,370.3 L769.9,370.2 L764.5,370.1 L758.0,370.0 L750.8,369.9 L743.1,369.7 L735.2,369.5 L727.4,369.3 L720.0,369.1 L712.8,368.9 L705.3,368.6 L697.8,368.3 L690.1,368.0 L682.4,367.7 L674.8,367.3 L667.3,366.9 L660.1,366.4 L653.0,365.9 L646.0,365.3 L639.1,364.6 L632.3,363.9 L625.5,363.2 L618.7,362.5 L611.9,361.8 L605.1,361.2 L598.0,360.6 L590.7,360.0 L583.3,359.5 L576.0,358.9 L568.9,358.4 L562.1,357.9 L555.7,357.4 L550.1,357.0 L545.1,356.6 L540.7,356.3 L536.8,356.0 L533.2,355.8 L529.8,355.5 L526.6,355.2 L523.4,354.9 L520.1,354.6 L516.7,354.3 L513.5,354.0 L510.4,353.6 L507.4,353.3 L504.4,352.9 L501.4,352.4 L498.4,351.8 L495.2,351.0 L492.0,350.1 L488.7,349.0 L485.3,347.8 L482.0,346.4 L478.6,345.0 L475.2,343.5 L471.8,342.0 L468.3,340.5 L464.8,338.8 L461.2,337.0 L457.6,335.1 L453.9,333.1 L450.3,331.2 L446.8,329.4 L443.5,327.7 L440.3,326.2 L437.4,324.9 L434.7,323.8 L432.2,322.9 L429.8,322.0 L427.4,321.3 L425.1,320.5 L422.7,319.7 L420.2,318.9 L417.8,318.1 L415.3,317.4 L412.9,316.7 L410.5,316.0 L408.0,315.2 L405.5,314.5 L402.9,313.6 L400.3,312.7 L397.4,311.7 L394.4,310.6 L391.4,309.5 L388.2,308.3 L385.1,307.1 L382.0,305.9 L379.1,304.7 L376.3,303.6 L373.6,302.6 L371.0,301.5 L368.5,300.5 L366.0,299.5 L363.7,298.6 L361.4,297.6 L359.3,296.7 L357.3,295.9 L355.6,295.0 L354.1,294.2 L352.7,293.4 L351.4,292.7 L350.1,291.9 L348.8,291.2 L347.3,290.6 L345.7,290.0 L344.0,289.5 L342.3,289.0 L340.4,288.6 L338.5,288.2 L336.6,287.9 L334.7,287.7 L332.8,287.6 L331.0,287.6 L329.1,287.7 L327.3,288.0 L325.5,288.3 L323.6,288.7 L321.8,289.2 L320.1,289.8 L318.4,290.5 L316.7,291.2 L315.1,291.9 L313.6,292.6 L312.2,293.4 L310.8,294.3 L309.3,295.3 L307.8,296.4 L306.2,297.7 L304.5,299.2 L302.5,301.0 L300.4,303.2 L298.2,305.6 L296.0,308.1 L293.7,310.6 L291.5,313.0 L289.4,315.2 L287.5,317.0 L285.7,318.6 L284.0,319.9 L282.4,321.1 L280.8,322.2 L279.3,323.2 L277.7,324.2 L276.2,325.2 L274.6,326.2 L273.0,327.1 L271.4,328.1 L269.9,328.9 L268.4,329.8 L266.8,330.6 L265.2,331.4 L263.5,332.3 L261.7,333.1 L259.7,334.0 L257.8,335.0 L255.7,335.9 L253.6,336.8 L251.5,337.8 L249.3,338.7 L247.0,339.5 L244.7,340.3 L242.4,341.1 L239.9,341.9 L237.4,342.7 L234.8,343.4 L232.2,344.1 L229.7,344.7 L227.2,345.3 L224.8,345.8 L222.5,346.3 L220.0,346.6 L217.6,346.9 L215.2,347.2 L212.9,347.4 L210.9,347.6 L209.2,347.8 L207.9,347.9 Z" fill="#2e2722"/><path d="M210,330.5 Q235,329 255,327.5 Q262,328.5 268,333.5 Q278,337.5 296,338.2 L296,343.2 Q275,342.5 264,339.5 Q258,337 254,336.5 Q235,338 210,338.5 Z" fill="#2da7de"/><path d="M210,330.5 Q235,329 255,327.5 Q262,328.5 268,333.5 Q278,337.5 296,338.2 M296,343.2 Q275,342.5 264,339.5 Q258,337 254,336.5 Q235,338 210,338.5" fill="none" stroke="#1d5f8f" stroke-width="1.2"/>
<path d="M299,308 v8" stroke="#5ab3dd" stroke-width="1.4" fill="none"/><path d="M296.8,314.2 L299,318.4 L301.2,314.2 Z" fill="#5ab3dd"/><path d="M319.5,292 v17" stroke="#5ab3dd" stroke-width="1.4" fill="none"/><path d="M317.3,307.2 L319.5,311.4 L321.7,307.2 Z" fill="#5ab3dd"/><path d="M332,289 v11" stroke="#5ab3dd" stroke-width="1.4" fill="none"/><path d="M329.8,298.2 L332,302.4 L334.2,298.2 Z" fill="#5ab3dd"/><path d="M350,294 v9" stroke="#5ab3dd" stroke-width="1.4" fill="none"/><path d="M347.8,301.2 L350,305.4 L352.2,301.2 Z" fill="#5ab3dd"/><path d="M362,300 v8" stroke="#5ab3dd" stroke-width="1.4" fill="none"/><path d="M359.8,306.2 L362,310.4 L364.2,306.2 Z" fill="#5ab3dd"/><path d="M372,304 v8" stroke="#5ab3dd" stroke-width="1.4" fill="none"/><path d="M369.8,310.2 L372,314.4 L374.2,310.2 Z" fill="#5ab3dd"/><path d="M385,309 v8" stroke="#5ab3dd" stroke-width="1.4" fill="none"/><path d="M382.8,315.2 L385,319.4 L387.2,315.2 Z" fill="#5ab3dd"/><path d="M559.6,359 v11" stroke="#5ab3dd" stroke-width="1.4" fill="none"/><path d="M557.4,368.2 L559.6,372.4 L561.8000000000001,368.2 Z" fill="#5ab3dd"/><path d="M585.8,362 v11" stroke="#5ab3dd" stroke-width="1.4" fill="none"/><path d="M583.5999999999999,371.2 L585.8,375.4 L588.0,371.2 Z" fill="#5ab3dd"/><path d="M629.2,366 v10" stroke="#5ab3dd" stroke-width="1.4" fill="none"/><path d="M627.0,374.2 L629.2,378.4 L631.4000000000001,374.2 Z" fill="#5ab3dd"/><path d="M655,368 v10" stroke="#5ab3dd" stroke-width="1.4" fill="none"/><path d="M652.8,376.2 L655,380.4 L657.2,376.2 Z" fill="#5ab3dd"/><path d="M685,370 v9" stroke="#5ab3dd" stroke-width="1.4" fill="none"/><path d="M682.8,377.2 L685,381.4 L687.2,377.2 Z" fill="#5ab3dd"/><path d="M721,362 Q735,361 761,362.6" fill="none" stroke="#27602f" stroke-width="1.2"/><rect x="734" y="362" width="11" height="38.5" fill="#d3ced0" stroke="#3f3a40" stroke-width="1.3"/><rect x="734.7" y="395.5" width="9.6" height="9" fill="#6cc5ee"/><path d="M734,400 v5 M745,400 v5" stroke="#1c4b5c" stroke-width="1.2"/><rect x="732" y="356" width="15" height="6.6" rx="1" fill="#8f8494" stroke="#3f3a40" stroke-width="1.3"/><path d="M737,357 v5 M742,357 v5" stroke="#3f3a40" stroke-width=".8"/><path d="M738.2,362.6 L739.2,376 M740.4,362.6 L739.4,376" stroke="#3f3a40" stroke-width=".8" fill="none"/><path d="M737.6,376.5 h3.4 l1,5.5 h-5.4 Z" fill="#9a9297" stroke="#3f3a40" stroke-width="1"/>
</svg>

<!-- overlays -->
<svg id="over" viewBox="0 0 800 600">
<defs><linearGradient id="pg" x1="0" y1="0" x2="1" y2="0"><stop offset="0" stop-color="#e9f0ae"/><stop offset=".5" stop-color="#eff3bd"/><stop offset="1" stop-color="#f3f6cd"/></linearGradient><linearGradient id="pg3" x1="0" y1="0" x2="1" y2="0"><stop offset="0" stop-color="#f0f29c"/><stop offset=".5" stop-color="#f2f4b0"/><stop offset="1" stop-color="#f1f4c0"/></linearGradient><filter id="b1" x="-10%" y="-20%" width="120%" height="140%"><feGaussianBlur stdDeviation=".7"/></filter></defs>
<path d="M280,286 Q282,313 256,328" fill="none" stroke="#f4ffe8" stroke-width="1.3"/><circle cx="255.5" cy="328" r="3" fill="#fff"/><path d="M361,384 Q348,344 302,344.5" fill="none" stroke="#fff" stroke-width="1.3"/><circle cx="302" cy="344.5" r="3" fill="#fff"/><path d="M474,421 Q486,409 511,406.3" fill="none" stroke="#fff" stroke-width="1.3"/><circle cx="511" cy="406.3" r="3" fill="#fff"/><path d="M724,345 Q736,345 740,351.5" fill="none" stroke="#f4ffe8" stroke-width="1.3"/><circle cx="740" cy="351.6" r="3.2" fill="#eefbe2"/><rect x="361" y="146.5" width="102.5" height="29" rx="14.5" fill="url(#pg3)" opacity=".95"/><rect x="372.5" y="151" width="85" height="24.5" rx="11.5" fill="#fff" filter="url(#b1)"/><circle cx="411.3" cy="166.2" r="5.6" fill="#fff" stroke="#000" stroke-width="3.4"/><rect x="225" y="258" width="66.5" height="28.5" rx="14.25" fill="url(#pg)" opacity=".95"/><rect x="229.5" y="263" width="56" height="19" rx="9.5" fill="#fff" filter="url(#b1)"/><circle cx="257" cy="275.5" r="5.6" fill="#fff" stroke="#000" stroke-width="3.4"/><rect x="333" y="258" width="80" height="28.5" rx="14.25" fill="url(#pg)" opacity=".95"/><rect x="345" y="262.5" width="55.5" height="17" rx="8.5" fill="#fff" filter="url(#b1)"/><circle cx="370" cy="273.8" r="5.6" fill="#fff" stroke="#000" stroke-width="3.4"/><rect x="543" y="328.6" width="81.5" height="28.6" rx="14.3" fill="url(#pg)" opacity=".95"/><rect x="552" y="330.4" width="69" height="24" rx="11.5" fill="#fff" filter="url(#b1)"/><circle cx="587" cy="341.2" r="5.6" fill="#fff" stroke="#000" stroke-width="3.4"/><rect x="669.4" y="336" width="56" height="28.2" rx="14.1" fill="url(#pg)" opacity=".95"/><rect x="675.2" y="341.4" width="47.5" height="19.8" rx="9.9" fill="#fff" filter="url(#b1)"/><circle cx="701" cy="351.6" r="5.6" fill="#fff" stroke="#000" stroke-width="3.4"/>
</svg>

<div class="tip" style="left:214px;top:383px;width:195px;height:80px;"><p style="left:13.5px;top:32.2px;">This is water that flows<br>through underground caves.</p></div>
<div class="tip" style="left:447px;top:420px;width:256px;height:76px;"><p style="left:14px;top:33px;">This is a body of porous rock that stores<br>water like a huge sponge.</p></div>

<svg style="position:absolute;left:0;top:0;width:800px;height:600px" viewBox="0 0 800 600">
<rect x="229" y="390.5" width="115.5" height="23" rx="11.5" fill="#5bb043"/><circle cx="282.5" cy="403.8" r="5.8" fill="#fff" stroke="#000" stroke-width="3.4"/><rect x="457.5" y="424.5" width="84" height="24" rx="12" fill="#5bb043"/><circle cx="495.5" cy="437.3" r="5.8" fill="#fff" stroke="#000" stroke-width="3.4"/>
</svg>
</body>
</html>
